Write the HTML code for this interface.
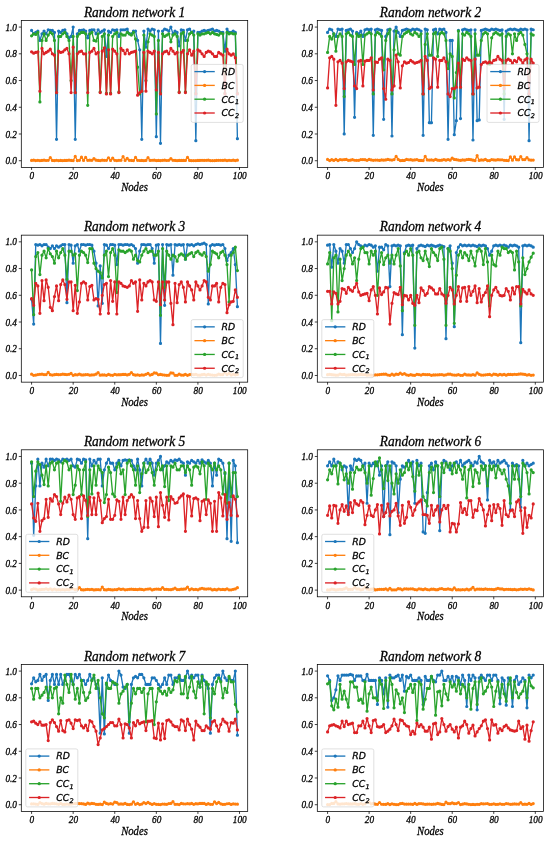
<!DOCTYPE html>
<html lang="en"><head><meta charset="utf-8"><title>Random networks</title>
<style>
html,body{margin:0;padding:0;background:#fff}
body{width:550px;height:842px;overflow:hidden}
svg{display:block}
text{font-family:"Liberation Serif","Times New Roman",serif;font-style:italic;fill:#000;stroke:#000;stroke-width:0.28px}
.tk text{font-size:10.1px}
.ti{font-size:14.6px}
.la{font-size:11.6px}
.lg{font-family:"DejaVu Sans","Liberation Sans",sans-serif;font-style:oblique;font-size:9.3px}
.sb{font-size:6.51px}
</style></head><body>
<svg width="550" height="842" viewBox="0 0 550 842">
<rect width="550" height="842" fill="#fff"/>
<g>
<polyline points="31.59,30.42 33.67,33.76 35.75,32.43 37.83,31.09 39.91,40.45 41.99,33.76 44.06,31.09 46.14,33.76 48.22,29.75 50.3,30.42 52.38,30.42 54.46,32.43 56.54,139.34 58.62,31.09 60.7,32.43 62.78,30.42 64.85,29.75 66.93,33.76 69.01,37.77 71.09,36.44 73.17,27.08 75.25,139.34 77.33,33.76 79.41,30.42 81.49,30.42 83.57,29.75 85.64,31.09 87.72,37.77 89.8,30.42 91.88,29.75 93.96,29.75 96.04,33.76 98.12,29.75 100.2,32.43 102.28,31.09 104.35,29.75 106.43,56.48 108.51,31.09 110.59,32.43 112.67,29.75 114.75,30.42 116.83,29.75 118.91,36.44 120.99,29.75 123.07,29.75 125.14,29.75 127.22,29.09 129.3,33.76 131.38,33.76 133.46,31.09 135.54,31.09 137.62,40.45 139.7,49.8 141.78,139.34 143.86,31.09 145.93,47.13 148.01,29.09 150.09,31.09 152.17,29.09 154.25,29.75 156.33,136.66 158.41,31.09 160.49,143.35 162.57,31.09 164.65,29.09 166.72,29.75 168.8,31.09 170.88,27.08 172.96,33.76 175.04,31.09 177.12,32.43 179.2,45.79 181.28,29.75 183.36,30.42 185.43,40.45 187.51,29.75 189.59,29.09 191.67,32.43 193.75,31.09 195.83,140.67 197.91,32.43 199.99,32.43 202.07,31.09 204.15,30.42 206.22,31.09 208.3,30.42 210.38,29.75 212.46,29.09 214.54,31.09 216.62,30.42 218.7,31.09 220.78,32.43 222.86,32.43 224.94,51.14 227.01,29.09 229.09,32.43 231.17,32.43 233.25,31.09 235.33,32.43 237.41,138.67" fill="none" stroke="#1c76ba" stroke-width="1.33" stroke-linejoin="round"/>
<path d="M31.59,30.42h0M33.67,33.76h0M35.75,32.43h0M37.83,31.09h0M39.91,40.45h0M41.99,33.76h0M44.06,31.09h0M46.14,33.76h0M48.22,29.75h0M50.3,30.42h0M52.38,30.42h0M54.46,32.43h0M56.54,139.34h0M58.62,31.09h0M60.7,32.43h0M62.78,30.42h0M64.85,29.75h0M66.93,33.76h0M69.01,37.77h0M71.09,36.44h0M73.17,27.08h0M75.25,139.34h0M77.33,33.76h0M79.41,30.42h0M81.49,30.42h0M83.57,29.75h0M85.64,31.09h0M87.72,37.77h0M89.8,30.42h0M91.88,29.75h0M93.96,29.75h0M96.04,33.76h0M98.12,29.75h0M100.2,32.43h0M102.28,31.09h0M104.35,29.75h0M106.43,56.48h0M108.51,31.09h0M110.59,32.43h0M112.67,29.75h0M114.75,30.42h0M116.83,29.75h0M118.91,36.44h0M120.99,29.75h0M123.07,29.75h0M125.14,29.75h0M127.22,29.09h0M129.3,33.76h0M131.38,33.76h0M133.46,31.09h0M135.54,31.09h0M137.62,40.45h0M139.7,49.8h0M141.78,139.34h0M143.86,31.09h0M145.93,47.13h0M148.01,29.09h0M150.09,31.09h0M152.17,29.09h0M154.25,29.75h0M156.33,136.66h0M158.41,31.09h0M160.49,143.35h0M162.57,31.09h0M164.65,29.09h0M166.72,29.75h0M168.8,31.09h0M170.88,27.08h0M172.96,33.76h0M175.04,31.09h0M177.12,32.43h0M179.2,45.79h0M181.28,29.75h0M183.36,30.42h0M185.43,40.45h0M187.51,29.75h0M189.59,29.09h0M191.67,32.43h0M193.75,31.09h0M195.83,140.67h0M197.91,32.43h0M199.99,32.43h0M202.07,31.09h0M204.15,30.42h0M206.22,31.09h0M208.3,30.42h0M210.38,29.75h0M212.46,29.09h0M214.54,31.09h0M216.62,30.42h0M218.7,31.09h0M220.78,32.43h0M222.86,32.43h0M224.94,51.14h0M227.01,29.09h0M229.09,32.43h0M231.17,32.43h0M233.25,31.09h0M235.33,32.43h0M237.41,138.67h0" stroke="#1c76ba" stroke-width="3.24" stroke-linecap="round" fill="none"/>
<polyline points="31.59,160.49 33.67,160.2 35.75,160.53 37.83,160.3 39.91,160.55 41.99,160.49 44.06,160.18 46.14,160.5 48.22,160.33 50.3,157.56 52.38,160.39 54.46,160.51 56.54,160.25 58.62,160.55 60.7,160.49 62.78,160.58 64.85,160.48 66.93,160.42 69.01,160.22 71.09,160.43 73.17,160.54 75.25,156.49 77.33,160.56 79.41,160.34 81.49,157.15 83.57,160.45 85.64,157.37 87.72,160.32 89.8,160.22 91.88,160.35 93.96,158.52 96.04,160.21 98.12,160.39 100.2,160.51 102.28,160.21 104.35,160.35 106.43,160.29 108.51,157.75 110.59,160.44 112.67,158.07 114.75,160.28 116.83,160.55 118.91,160.31 120.99,160.3 123.07,156.53 125.14,160.38 127.22,158.31 129.3,160.37 131.38,160.38 133.46,160.56 135.54,157.27 137.62,160.3 139.7,160.5 141.78,160.49 143.86,160.58 145.93,160.45 148.01,157.7 150.09,160.43 152.17,160.25 154.25,160.23 156.33,160.51 158.41,160.43 160.49,160.52 162.57,160.32 164.65,160.19 166.72,160.5 168.8,160.28 170.88,158.57 172.96,160.28 175.04,160.45 177.12,160.52 179.2,160.41 181.28,160.49 183.36,160.42 185.43,160.41 187.51,157.29 189.59,160.47 191.67,160.55 193.75,160.55 195.83,160.54 197.91,160.38 199.99,160.44 202.07,160.26 204.15,160.38 206.22,160.3 208.3,160.19 210.38,160.56 212.46,160.58 214.54,160.53 216.62,160.43 218.7,160.35 220.78,160.29 222.86,160.44 224.94,160.2 227.01,160.58 229.09,160.25 231.17,160.5 233.25,160.23 235.33,160.57 237.41,160.2" fill="none" stroke="#ff7f0e" stroke-width="1.33" stroke-linejoin="round"/>
<path d="M31.59,160.49h0M33.67,160.2h0M35.75,160.53h0M37.83,160.3h0M39.91,160.55h0M41.99,160.49h0M44.06,160.18h0M46.14,160.5h0M48.22,160.33h0M50.3,157.56h0M52.38,160.39h0M54.46,160.51h0M56.54,160.25h0M58.62,160.55h0M60.7,160.49h0M62.78,160.58h0M64.85,160.48h0M66.93,160.42h0M69.01,160.22h0M71.09,160.43h0M73.17,160.54h0M75.25,156.49h0M77.33,160.56h0M79.41,160.34h0M81.49,157.15h0M83.57,160.45h0M85.64,157.37h0M87.72,160.32h0M89.8,160.22h0M91.88,160.35h0M93.96,158.52h0M96.04,160.21h0M98.12,160.39h0M100.2,160.51h0M102.28,160.21h0M104.35,160.35h0M106.43,160.29h0M108.51,157.75h0M110.59,160.44h0M112.67,158.07h0M114.75,160.28h0M116.83,160.55h0M118.91,160.31h0M120.99,160.3h0M123.07,156.53h0M125.14,160.38h0M127.22,158.31h0M129.3,160.37h0M131.38,160.38h0M133.46,160.56h0M135.54,157.27h0M137.62,160.3h0M139.7,160.5h0M141.78,160.49h0M143.86,160.58h0M145.93,160.45h0M148.01,157.7h0M150.09,160.43h0M152.17,160.25h0M154.25,160.23h0M156.33,160.51h0M158.41,160.43h0M160.49,160.52h0M162.57,160.32h0M164.65,160.19h0M166.72,160.5h0M168.8,160.28h0M170.88,158.57h0M172.96,160.28h0M175.04,160.45h0M177.12,160.52h0M179.2,160.41h0M181.28,160.49h0M183.36,160.42h0M185.43,160.41h0M187.51,157.29h0M189.59,160.47h0M191.67,160.55h0M193.75,160.55h0M195.83,160.54h0M197.91,160.38h0M199.99,160.44h0M202.07,160.26h0M204.15,160.38h0M206.22,160.3h0M208.3,160.19h0M210.38,160.56h0M212.46,160.58h0M214.54,160.53h0M216.62,160.43h0M218.7,160.35h0M220.78,160.29h0M222.86,160.44h0M224.94,160.2h0M227.01,160.58h0M229.09,160.25h0M231.17,160.5h0M233.25,160.23h0M235.33,160.57h0M237.41,160.2h0" stroke="#ff7f0e" stroke-width="3.24" stroke-linecap="round" fill="none"/>
<polyline points="31.59,35.77 33.67,33.76 35.75,34.43 37.83,32.43 39.91,101.92 41.99,40.45 44.06,33.76 46.14,40.45 48.22,35.1 50.3,32.43 52.38,33.76 54.46,40.45 56.54,92.56 58.62,36.44 60.7,36.44 62.78,33.76 64.85,32.43 66.93,36.44 69.01,40.45 71.09,80.54 73.17,36.44 75.25,92.56 77.33,36.44 79.41,33.76 81.49,32.43 83.57,32.43 85.64,33.76 87.72,105.26 89.8,33.76 91.88,32.43 93.96,40.45 96.04,41.11 98.12,33.76 100.2,91.9 102.28,36.44 104.35,33.76 106.43,93.23 108.51,35.1 110.59,93.23 112.67,36.44 114.75,33.76 116.83,32.43 118.91,91.9 120.99,33.76 123.07,35.1 125.14,35.1 127.22,32.43 129.3,33.76 131.38,35.1 133.46,32.43 135.54,39.11 137.62,67.17 139.7,93.9 141.78,91.23 143.86,35.1 145.93,80.54 148.01,41.78 150.09,33.76 152.17,35.1 154.25,36.44 156.33,113.95 158.41,40.45 160.49,93.23 162.57,33.76 164.65,36.44 166.72,35.1 168.8,33.76 170.88,41.78 172.96,35.1 175.04,33.76 177.12,36.44 179.2,91.9 181.28,33.76 183.36,32.43 185.43,91.9 187.51,40.45 189.59,33.76 191.67,32.43 193.75,35.1 195.83,93.23 197.91,33.76 199.99,35.1 202.07,33.76 204.15,33.76 206.22,33.1 208.3,32.43 210.38,33.76 212.46,32.43 214.54,33.76 216.62,34.43 218.7,35.1 220.78,33.1 222.86,33.76 224.94,93.23 227.01,32.43 229.09,33.76 231.17,33.1 233.25,33.76 235.33,33.76 237.41,93.23" fill="none" stroke="#29a32d" stroke-width="1.33" stroke-linejoin="round"/>
<path d="M31.59,35.77h0M33.67,33.76h0M35.75,34.43h0M37.83,32.43h0M39.91,101.92h0M41.99,40.45h0M44.06,33.76h0M46.14,40.45h0M48.22,35.1h0M50.3,32.43h0M52.38,33.76h0M54.46,40.45h0M56.54,92.56h0M58.62,36.44h0M60.7,36.44h0M62.78,33.76h0M64.85,32.43h0M66.93,36.44h0M69.01,40.45h0M71.09,80.54h0M73.17,36.44h0M75.25,92.56h0M77.33,36.44h0M79.41,33.76h0M81.49,32.43h0M83.57,32.43h0M85.64,33.76h0M87.72,105.26h0M89.8,33.76h0M91.88,32.43h0M93.96,40.45h0M96.04,41.11h0M98.12,33.76h0M100.2,91.9h0M102.28,36.44h0M104.35,33.76h0M106.43,93.23h0M108.51,35.1h0M110.59,93.23h0M112.67,36.44h0M114.75,33.76h0M116.83,32.43h0M118.91,91.9h0M120.99,33.76h0M123.07,35.1h0M125.14,35.1h0M127.22,32.43h0M129.3,33.76h0M131.38,35.1h0M133.46,32.43h0M135.54,39.11h0M137.62,67.17h0M139.7,93.9h0M141.78,91.23h0M143.86,35.1h0M145.93,80.54h0M148.01,41.78h0M150.09,33.76h0M152.17,35.1h0M154.25,36.44h0M156.33,113.95h0M158.41,40.45h0M160.49,93.23h0M162.57,33.76h0M164.65,36.44h0M166.72,35.1h0M168.8,33.76h0M170.88,41.78h0M172.96,35.1h0M175.04,33.76h0M177.12,36.44h0M179.2,91.9h0M181.28,33.76h0M183.36,32.43h0M185.43,91.9h0M187.51,40.45h0M189.59,33.76h0M191.67,32.43h0M193.75,35.1h0M195.83,93.23h0M197.91,33.76h0M199.99,35.1h0M202.07,33.76h0M204.15,33.76h0M206.22,33.1h0M208.3,32.43h0M210.38,33.76h0M212.46,32.43h0M214.54,33.76h0M216.62,34.43h0M218.7,35.1h0M220.78,33.1h0M222.86,33.76h0M224.94,93.23h0M227.01,32.43h0M229.09,33.76h0M231.17,33.1h0M233.25,33.76h0M235.33,33.76h0M237.41,93.23h0" stroke="#29a32d" stroke-width="3.24" stroke-linecap="round" fill="none"/>
<polyline points="31.59,51.8 33.67,53.14 35.75,52.47 37.83,51.8 39.91,91.23 41.99,48.46 44.06,53.81 46.14,52.47 48.22,51.14 50.3,49.13 52.38,53.81 54.46,55.15 56.54,92.56 58.62,51.14 60.7,52.47 62.78,51.8 64.85,49.8 66.93,48.46 69.01,53.81 71.09,92.56 73.17,47.13 75.25,92.56 77.33,53.81 79.41,51.8 81.49,51.14 83.57,53.81 85.64,53.81 87.72,92.56 89.8,52.47 91.88,51.14 93.96,48.46 96.04,53.81 98.12,52.47 100.2,92.56 102.28,51.14 104.35,47.8 106.43,93.9 108.51,49.8 110.59,93.9 112.67,49.13 114.75,51.14 116.83,53.81 118.91,92.56 120.99,48.46 123.07,50.47 125.14,53.81 127.22,49.8 129.3,53.81 131.38,52.47 133.46,51.8 135.54,51.14 137.62,95.24 139.7,92.56 141.78,91.23 143.86,52.47 145.93,91.23 148.01,51.14 150.09,52.47 152.17,53.81 154.25,51.14 156.33,89.89 158.41,52.47 160.49,93.9 162.57,53.81 164.65,51.8 166.72,51.14 168.8,53.81 170.88,48.46 172.96,51.14 175.04,53.81 177.12,52.47 179.2,92.56 181.28,52.47 183.36,50.47 185.43,92.56 187.51,53.81 189.59,49.8 191.67,55.15 193.75,51.14 195.83,93.9 197.91,49.8 199.99,51.14 202.07,53.81 204.15,56.48 206.22,52.47 208.3,51.14 210.38,51.8 212.46,53.81 214.54,56.48 216.62,56.48 218.7,52.47 220.78,53.81 222.86,55.15 224.94,93.9 227.01,49.13 229.09,53.81 231.17,55.15 233.25,53.81 235.33,57.82 237.41,93.9" fill="none" stroke="#dc2226" stroke-width="1.33" stroke-linejoin="round"/>
<path d="M31.59,51.8h0M33.67,53.14h0M35.75,52.47h0M37.83,51.8h0M39.91,91.23h0M41.99,48.46h0M44.06,53.81h0M46.14,52.47h0M48.22,51.14h0M50.3,49.13h0M52.38,53.81h0M54.46,55.15h0M56.54,92.56h0M58.62,51.14h0M60.7,52.47h0M62.78,51.8h0M64.85,49.8h0M66.93,48.46h0M69.01,53.81h0M71.09,92.56h0M73.17,47.13h0M75.25,92.56h0M77.33,53.81h0M79.41,51.8h0M81.49,51.14h0M83.57,53.81h0M85.64,53.81h0M87.72,92.56h0M89.8,52.47h0M91.88,51.14h0M93.96,48.46h0M96.04,53.81h0M98.12,52.47h0M100.2,92.56h0M102.28,51.14h0M104.35,47.8h0M106.43,93.9h0M108.51,49.8h0M110.59,93.9h0M112.67,49.13h0M114.75,51.14h0M116.83,53.81h0M118.91,92.56h0M120.99,48.46h0M123.07,50.47h0M125.14,53.81h0M127.22,49.8h0M129.3,53.81h0M131.38,52.47h0M133.46,51.8h0M135.54,51.14h0M137.62,95.24h0M139.7,92.56h0M141.78,91.23h0M143.86,52.47h0M145.93,91.23h0M148.01,51.14h0M150.09,52.47h0M152.17,53.81h0M154.25,51.14h0M156.33,89.89h0M158.41,52.47h0M160.49,93.9h0M162.57,53.81h0M164.65,51.8h0M166.72,51.14h0M168.8,53.81h0M170.88,48.46h0M172.96,51.14h0M175.04,53.81h0M177.12,52.47h0M179.2,92.56h0M181.28,52.47h0M183.36,50.47h0M185.43,92.56h0M187.51,53.81h0M189.59,49.8h0M191.67,55.15h0M193.75,51.14h0M195.83,93.9h0M197.91,49.8h0M199.99,51.14h0M202.07,53.81h0M204.15,56.48h0M206.22,52.47h0M208.3,51.14h0M210.38,51.8h0M212.46,53.81h0M214.54,56.48h0M216.62,56.48h0M218.7,52.47h0M220.78,53.81h0M222.86,55.15h0M224.94,93.9h0M227.01,49.13h0M229.09,53.81h0M231.17,55.15h0M233.25,53.81h0M235.33,57.82h0M237.41,93.9h0" stroke="#dc2226" stroke-width="3.24" stroke-linecap="round" fill="none"/>
<rect x="21.3" y="20.4" width="226.4" height="147" fill="none" stroke="#000" stroke-width="0.75"/>
<path d="M31.59,167.4v2.5M73.17,167.4v2.5M114.75,167.4v2.5M156.33,167.4v2.5M197.91,167.4v2.5M239.49,167.4v2.5M21.3,160.72h-2.5M21.3,133.99h-2.5M21.3,107.26h-2.5M21.3,80.54h-2.5M21.3,53.81h-2.5M21.3,27.08h-2.5" stroke="#000" stroke-width="0.75" fill="none"/>
<g class="tk" text-anchor="middle">
<text transform="translate(31.89 179.3) scale(0.92 1)">0</text>
<text transform="translate(73.47 179.3) scale(0.92 1)">20</text>
<text transform="translate(115.05 179.3) scale(0.92 1)">40</text>
<text transform="translate(156.63 179.3) scale(0.92 1)">60</text>
<text transform="translate(198.21 179.3) scale(0.92 1)">80</text>
<text transform="translate(239.79 179.3) scale(0.92 1)">100</text>
</g>
<g class="tk" text-anchor="end">
<text transform="translate(17 164.32) scale(0.92 1)">0.0</text>
<text transform="translate(17 137.59) scale(0.92 1)">0.2</text>
<text transform="translate(17 110.86) scale(0.92 1)">0.4</text>
<text transform="translate(17 84.14) scale(0.92 1)">0.6</text>
<text transform="translate(17 57.41) scale(0.92 1)">0.8</text>
<text transform="translate(17 30.68) scale(0.92 1)">1.0</text>
</g>
<text class="ti" text-anchor="middle" transform="translate(134.6 16.5) scale(0.92 1)">Random network 1</text>
<text class="la" text-anchor="middle" transform="translate(134.5 190.9) scale(0.92 1)">Nodes</text>
<rect x="191.2" y="64.4" width="52.0" height="58.0" rx="1.8" fill="#fff" fill-opacity="0.8" stroke="#ccc" stroke-opacity="0.8" stroke-width="0.75"/>
<path d="M195.1,71.6h19" stroke="#1c76ba" stroke-width="1.33" stroke-linecap="square" fill="none"/>
<circle cx="204.6" cy="71.6" r="1.62" fill="#1c76ba"/>
<text class="lg" x="221.6" y="74.9">RD</text>
<path d="M195.1,85.4h19" stroke="#ff7f0e" stroke-width="1.33" stroke-linecap="square" fill="none"/>
<circle cx="204.6" cy="85.4" r="1.62" fill="#ff7f0e"/>
<text class="lg" x="221.6" y="88.7">BC</text>
<path d="M195.1,99.2h19" stroke="#29a32d" stroke-width="1.33" stroke-linecap="square" fill="none"/>
<circle cx="204.6" cy="99.2" r="1.62" fill="#29a32d"/>
<text class="lg" x="221.6" y="102.5">CC<tspan class="sb" dx="0.4" dy="1.7">1</tspan></text>
<path d="M195.1,113h19" stroke="#dc2226" stroke-width="1.33" stroke-linecap="square" fill="none"/>
<circle cx="204.6" cy="113" r="1.62" fill="#dc2226"/>
<text class="lg" x="221.6" y="116.3">CC<tspan class="sb" dx="0.4" dy="1.7">2</tspan></text>
</g>
<g>
<polyline points="327.58,32.43 329.66,29.09 331.74,29.75 333.81,33.76 335.89,36.44 337.97,29.09 340.04,29.75 342.12,29.09 344.2,133.99 346.28,30.42 348.35,29.75 350.43,29.09 352.51,31.09 354.58,117.29 356.66,32.43 358.74,33.76 360.82,31.09 362.89,36.44 364.97,29.75 367.05,29.09 369.12,29.75 371.2,29.09 373.28,135.33 375.36,29.75 377.43,29.09 379.51,29.75 381.59,30.42 383.66,119.29 385.74,36.44 387.82,29.75 389.9,29.09 391.97,136 394.05,31.09 396.13,27.08 398.2,32.43 400.28,36.44 402.36,30.42 404.44,29.75 406.51,29.09 408.59,29.75 410.67,30.42 412.74,29.09 414.82,29.75 416.9,29.09 418.98,29.75 421.05,31.09 423.13,135.33 425.21,29.09 427.28,29.75 429.36,122.63 431.44,122.63 433.52,29.75 435.59,29.09 437.67,33.76 439.75,29.09 441.82,29.75 443.9,29.09 445.98,32.43 448.06,139.34 450.13,40.45 452.21,40.45 454.29,134.66 456.36,120.63 458.44,30.42 460.52,118.62 462.6,29.75 464.67,29.09 466.75,29.75 468.83,30.42 470.9,29.75 472.98,140 475.06,29.75 477.14,120.63 479.21,119.96 481.29,30.42 483.37,29.75 485.44,29.09 487.52,29.75 489.6,30.42 491.68,29.09 493.75,29.75 495.83,29.09 497.91,29.75 499.98,30.42 502.06,29.75 504.14,119.29 506.22,31.09 508.29,29.75 510.37,29.09 512.45,29.75 514.52,29.09 516.6,29.75 518.68,30.42 520.76,29.09 522.83,29.75 524.91,29.09 526.99,29.75 529.06,140.67 531.14,29.09 533.22,29.75" fill="none" stroke="#1c76ba" stroke-width="1.33" stroke-linejoin="round"/>
<path d="M327.58,32.43h0M329.66,29.09h0M331.74,29.75h0M333.81,33.76h0M335.89,36.44h0M337.97,29.09h0M340.04,29.75h0M342.12,29.09h0M344.2,133.99h0M346.28,30.42h0M348.35,29.75h0M350.43,29.09h0M352.51,31.09h0M354.58,117.29h0M356.66,32.43h0M358.74,33.76h0M360.82,31.09h0M362.89,36.44h0M364.97,29.75h0M367.05,29.09h0M369.12,29.75h0M371.2,29.09h0M373.28,135.33h0M375.36,29.75h0M377.43,29.09h0M379.51,29.75h0M381.59,30.42h0M383.66,119.29h0M385.74,36.44h0M387.82,29.75h0M389.9,29.09h0M391.97,136h0M394.05,31.09h0M396.13,27.08h0M398.2,32.43h0M400.28,36.44h0M402.36,30.42h0M404.44,29.75h0M406.51,29.09h0M408.59,29.75h0M410.67,30.42h0M412.74,29.09h0M414.82,29.75h0M416.9,29.09h0M418.98,29.75h0M421.05,31.09h0M423.13,135.33h0M425.21,29.09h0M427.28,29.75h0M429.36,122.63h0M431.44,122.63h0M433.52,29.75h0M435.59,29.09h0M437.67,33.76h0M439.75,29.09h0M441.82,29.75h0M443.9,29.09h0M445.98,32.43h0M448.06,139.34h0M450.13,40.45h0M452.21,40.45h0M454.29,134.66h0M456.36,120.63h0M458.44,30.42h0M460.52,118.62h0M462.6,29.75h0M464.67,29.09h0M466.75,29.75h0M468.83,30.42h0M470.9,29.75h0M472.98,140h0M475.06,29.75h0M477.14,120.63h0M479.21,119.96h0M481.29,30.42h0M483.37,29.75h0M485.44,29.09h0M487.52,29.75h0M489.6,30.42h0M491.68,29.09h0M493.75,29.75h0M495.83,29.09h0M497.91,29.75h0M499.98,30.42h0M502.06,29.75h0M504.14,119.29h0M506.22,31.09h0M508.29,29.75h0M510.37,29.09h0M512.45,29.75h0M514.52,29.09h0M516.6,29.75h0M518.68,30.42h0M520.76,29.09h0M522.83,29.75h0M524.91,29.09h0M526.99,29.75h0M529.06,140.67h0M531.14,29.09h0M533.22,29.75h0" stroke="#1c76ba" stroke-width="3.24" stroke-linecap="round" fill="none"/>
<polyline points="327.58,159.42 329.66,160.57 331.74,159.7 333.81,160.39 335.89,159.4 337.97,160.56 340.04,159.53 342.12,159.77 344.2,159.55 346.28,159.38 348.35,160.3 350.43,160.18 352.51,159.73 354.58,160.25 356.66,160.27 358.74,160.31 360.82,159.55 362.89,159.53 364.97,159.63 367.05,160.32 369.12,159.47 371.2,159.97 373.28,160.31 375.36,160.04 377.43,160.08 379.51,160.49 381.59,159.91 383.66,160.15 385.74,159.9 387.82,159.47 389.9,159.81 391.97,160.1 394.05,159.55 396.13,156.47 398.2,159.45 400.28,160.56 402.36,160.42 404.44,160.38 406.51,159.46 408.59,159.75 410.67,159.72 412.74,160.24 414.82,159.99 416.9,159.52 418.98,160.46 421.05,160.44 423.13,160.53 425.21,156.35 427.28,159.92 429.36,160.1 431.44,159.98 433.52,160.37 435.59,159.44 437.67,160.16 439.75,160.3 441.82,160.21 443.9,159.59 445.98,160.2 448.06,159.5 450.13,160.18 452.21,158.02 454.29,159.49 456.36,159.63 458.44,160.01 460.52,160.45 462.6,159.99 464.67,160.13 466.75,159.57 468.83,159.47 470.9,159.69 472.98,160.24 475.06,160.53 477.14,155.62 479.21,160.39 481.29,159.98 483.37,160.01 485.44,159.41 487.52,160.53 489.6,160.51 491.68,159.57 493.75,159.9 495.83,160.03 497.91,159.65 499.98,159.87 502.06,159.75 504.14,160.28 506.22,160.48 508.29,160.57 510.37,156.93 512.45,160.13 514.52,156.97 516.6,159.74 518.68,159.87 520.76,156.58 522.83,159.62 524.91,159.51 526.99,157.61 529.06,159.78 531.14,160.17 533.22,160.12" fill="none" stroke="#ff7f0e" stroke-width="1.33" stroke-linejoin="round"/>
<path d="M327.58,159.42h0M329.66,160.57h0M331.74,159.7h0M333.81,160.39h0M335.89,159.4h0M337.97,160.56h0M340.04,159.53h0M342.12,159.77h0M344.2,159.55h0M346.28,159.38h0M348.35,160.3h0M350.43,160.18h0M352.51,159.73h0M354.58,160.25h0M356.66,160.27h0M358.74,160.31h0M360.82,159.55h0M362.89,159.53h0M364.97,159.63h0M367.05,160.32h0M369.12,159.47h0M371.2,159.97h0M373.28,160.31h0M375.36,160.04h0M377.43,160.08h0M379.51,160.49h0M381.59,159.91h0M383.66,160.15h0M385.74,159.9h0M387.82,159.47h0M389.9,159.81h0M391.97,160.1h0M394.05,159.55h0M396.13,156.47h0M398.2,159.45h0M400.28,160.56h0M402.36,160.42h0M404.44,160.38h0M406.51,159.46h0M408.59,159.75h0M410.67,159.72h0M412.74,160.24h0M414.82,159.99h0M416.9,159.52h0M418.98,160.46h0M421.05,160.44h0M423.13,160.53h0M425.21,156.35h0M427.28,159.92h0M429.36,160.1h0M431.44,159.98h0M433.52,160.37h0M435.59,159.44h0M437.67,160.16h0M439.75,160.3h0M441.82,160.21h0M443.9,159.59h0M445.98,160.2h0M448.06,159.5h0M450.13,160.18h0M452.21,158.02h0M454.29,159.49h0M456.36,159.63h0M458.44,160.01h0M460.52,160.45h0M462.6,159.99h0M464.67,160.13h0M466.75,159.57h0M468.83,159.47h0M470.9,159.69h0M472.98,160.24h0M475.06,160.53h0M477.14,155.62h0M479.21,160.39h0M481.29,159.98h0M483.37,160.01h0M485.44,159.41h0M487.52,160.53h0M489.6,160.51h0M491.68,159.57h0M493.75,159.9h0M495.83,160.03h0M497.91,159.65h0M499.98,159.87h0M502.06,159.75h0M504.14,160.28h0M506.22,160.48h0M508.29,160.57h0M510.37,156.93h0M512.45,160.13h0M514.52,156.97h0M516.6,159.74h0M518.68,159.87h0M520.76,156.58h0M522.83,159.62h0M524.91,159.51h0M526.99,157.61h0M529.06,159.78h0M531.14,160.17h0M533.22,160.12h0" stroke="#ff7f0e" stroke-width="3.24" stroke-linecap="round" fill="none"/>
<polyline points="327.58,52.47 329.66,36.44 331.74,39.11 333.81,33.76 335.89,51.14 337.97,36.44 340.04,33.76 342.12,36.44 344.2,96.57 346.28,33.76 348.35,32.43 350.43,35.1 352.51,36.44 354.58,64.5 356.66,33.76 358.74,36.44 360.82,35.1 362.89,64.5 364.97,35.1 367.05,33.76 369.12,32.43 371.2,33.76 373.28,93.9 375.36,35.1 377.43,32.43 379.51,33.76 381.59,36.44 383.66,69.85 385.74,40.45 387.82,33.76 389.9,29.75 391.97,93.9 394.05,49.8 396.13,31.09 398.2,53.81 400.28,55.15 402.36,36.44 404.44,33.76 406.51,32.43 408.59,31.09 410.67,33.76 412.74,35.1 414.82,32.43 416.9,33.76 418.98,36.44 421.05,33.76 423.13,93.9 425.21,44.45 427.28,33.76 429.36,55.15 431.44,55.15 433.52,33.76 435.59,32.43 437.67,56.48 439.75,33.76 441.82,32.43 443.9,33.76 445.98,40.45 448.06,68.51 450.13,53.81 452.21,56.48 454.29,97.91 456.36,72.52 458.44,31.09 460.52,87.22 462.6,33.76 464.67,35.1 466.75,32.43 468.83,33.76 470.9,36.44 472.98,93.9 475.06,33.76 477.14,55.15 479.21,55.15 481.29,40.45 483.37,33.76 485.44,32.43 487.52,33.76 489.6,64.5 491.68,37.77 493.75,33.76 495.83,32.43 497.91,33.76 499.98,35.1 502.06,33.76 504.14,93.9 506.22,36.44 508.29,33.76 510.37,35.1 512.45,53.81 514.52,33.76 516.6,40.45 518.68,33.76 520.76,32.43 522.83,35.1 524.91,44.45 526.99,53.81 529.06,93.9 531.14,33.76 533.22,35.1" fill="none" stroke="#29a32d" stroke-width="1.33" stroke-linejoin="round"/>
<path d="M327.58,52.47h0M329.66,36.44h0M331.74,39.11h0M333.81,33.76h0M335.89,51.14h0M337.97,36.44h0M340.04,33.76h0M342.12,36.44h0M344.2,96.57h0M346.28,33.76h0M348.35,32.43h0M350.43,35.1h0M352.51,36.44h0M354.58,64.5h0M356.66,33.76h0M358.74,36.44h0M360.82,35.1h0M362.89,64.5h0M364.97,35.1h0M367.05,33.76h0M369.12,32.43h0M371.2,33.76h0M373.28,93.9h0M375.36,35.1h0M377.43,32.43h0M379.51,33.76h0M381.59,36.44h0M383.66,69.85h0M385.74,40.45h0M387.82,33.76h0M389.9,29.75h0M391.97,93.9h0M394.05,49.8h0M396.13,31.09h0M398.2,53.81h0M400.28,55.15h0M402.36,36.44h0M404.44,33.76h0M406.51,32.43h0M408.59,31.09h0M410.67,33.76h0M412.74,35.1h0M414.82,32.43h0M416.9,33.76h0M418.98,36.44h0M421.05,33.76h0M423.13,93.9h0M425.21,44.45h0M427.28,33.76h0M429.36,55.15h0M431.44,55.15h0M433.52,33.76h0M435.59,32.43h0M437.67,56.48h0M439.75,33.76h0M441.82,32.43h0M443.9,33.76h0M445.98,40.45h0M448.06,68.51h0M450.13,53.81h0M452.21,56.48h0M454.29,97.91h0M456.36,72.52h0M458.44,31.09h0M460.52,87.22h0M462.6,33.76h0M464.67,35.1h0M466.75,32.43h0M468.83,33.76h0M470.9,36.44h0M472.98,93.9h0M475.06,33.76h0M477.14,55.15h0M479.21,55.15h0M481.29,40.45h0M483.37,33.76h0M485.44,32.43h0M487.52,33.76h0M489.6,64.5h0M491.68,37.77h0M493.75,33.76h0M495.83,32.43h0M497.91,33.76h0M499.98,35.1h0M502.06,33.76h0M504.14,93.9h0M506.22,36.44h0M508.29,33.76h0M510.37,35.1h0M512.45,53.81h0M514.52,33.76h0M516.6,40.45h0M518.68,33.76h0M520.76,32.43h0M522.83,35.1h0M524.91,44.45h0M526.99,53.81h0M529.06,93.9h0M531.14,33.76h0M533.22,35.1h0" stroke="#29a32d" stroke-width="3.24" stroke-linecap="round" fill="none"/>
<polyline points="327.58,87.89 329.66,57.82 331.74,56.48 333.81,59.15 335.89,105.26 337.97,61.83 340.04,60.49 342.12,63.16 344.2,88.55 346.28,61.83 348.35,60.49 350.43,61.16 352.51,61.83 354.58,85.88 356.66,88.55 358.74,61.16 360.82,60.49 362.89,85.88 364.97,61.16 367.05,60.49 369.12,60.49 371.2,57.82 373.28,89.89 375.36,61.83 377.43,62.5 379.51,59.15 381.59,57.82 383.66,88.55 385.74,99.25 387.82,59.15 389.9,60.49 391.97,89.89 394.05,85.88 396.13,55.15 398.2,61.83 400.28,87.89 402.36,65.84 404.44,61.83 406.51,63.16 408.59,62.5 410.67,60.49 412.74,61.83 414.82,63.16 416.9,62.5 418.98,61.83 421.05,60.49 423.13,93.9 425.21,56.48 427.28,60.49 429.36,88.55 431.44,87.22 433.52,57.82 435.59,59.15 437.67,87.22 439.75,60.49 441.82,60.49 443.9,57.82 445.98,61.83 448.06,93.9 450.13,96.57 452.21,88.55 454.29,88.55 456.36,87.22 458.44,63.16 460.52,87.22 462.6,59.15 464.67,60.49 466.75,57.82 468.83,59.82 470.9,60.49 472.98,93.9 475.06,59.15 477.14,87.89 479.21,87.22 481.29,64.5 483.37,62.5 485.44,61.83 487.52,63.16 489.6,61.83 491.68,63.16 493.75,60.49 495.83,59.82 497.91,56.48 499.98,59.15 502.06,60.49 504.14,88.55 506.22,60.49 508.29,59.15 510.37,60.49 512.45,63.16 514.52,60.49 516.6,61.83 518.68,57.82 520.76,59.82 522.83,63.16 524.91,59.82 526.99,58.49 529.06,93.9 531.14,59.15 533.22,63.16" fill="none" stroke="#dc2226" stroke-width="1.33" stroke-linejoin="round"/>
<path d="M327.58,87.89h0M329.66,57.82h0M331.74,56.48h0M333.81,59.15h0M335.89,105.26h0M337.97,61.83h0M340.04,60.49h0M342.12,63.16h0M344.2,88.55h0M346.28,61.83h0M348.35,60.49h0M350.43,61.16h0M352.51,61.83h0M354.58,85.88h0M356.66,88.55h0M358.74,61.16h0M360.82,60.49h0M362.89,85.88h0M364.97,61.16h0M367.05,60.49h0M369.12,60.49h0M371.2,57.82h0M373.28,89.89h0M375.36,61.83h0M377.43,62.5h0M379.51,59.15h0M381.59,57.82h0M383.66,88.55h0M385.74,99.25h0M387.82,59.15h0M389.9,60.49h0M391.97,89.89h0M394.05,85.88h0M396.13,55.15h0M398.2,61.83h0M400.28,87.89h0M402.36,65.84h0M404.44,61.83h0M406.51,63.16h0M408.59,62.5h0M410.67,60.49h0M412.74,61.83h0M414.82,63.16h0M416.9,62.5h0M418.98,61.83h0M421.05,60.49h0M423.13,93.9h0M425.21,56.48h0M427.28,60.49h0M429.36,88.55h0M431.44,87.22h0M433.52,57.82h0M435.59,59.15h0M437.67,87.22h0M439.75,60.49h0M441.82,60.49h0M443.9,57.82h0M445.98,61.83h0M448.06,93.9h0M450.13,96.57h0M452.21,88.55h0M454.29,88.55h0M456.36,87.22h0M458.44,63.16h0M460.52,87.22h0M462.6,59.15h0M464.67,60.49h0M466.75,57.82h0M468.83,59.82h0M470.9,60.49h0M472.98,93.9h0M475.06,59.15h0M477.14,87.89h0M479.21,87.22h0M481.29,64.5h0M483.37,62.5h0M485.44,61.83h0M487.52,63.16h0M489.6,61.83h0M491.68,63.16h0M493.75,60.49h0M495.83,59.82h0M497.91,56.48h0M499.98,59.15h0M502.06,60.49h0M504.14,88.55h0M506.22,60.49h0M508.29,59.15h0M510.37,60.49h0M512.45,63.16h0M514.52,60.49h0M516.6,61.83h0M518.68,57.82h0M520.76,59.82h0M522.83,63.16h0M524.91,59.82h0M526.99,58.49h0M529.06,93.9h0M531.14,59.15h0M533.22,63.16h0" stroke="#dc2226" stroke-width="3.24" stroke-linecap="round" fill="none"/>
<rect x="317.3" y="20.4" width="226.2" height="147" fill="none" stroke="#000" stroke-width="0.75"/>
<path d="M327.58,167.4v2.5M369.12,167.4v2.5M410.67,167.4v2.5M452.21,167.4v2.5M493.75,167.4v2.5M535.3,167.4v2.5M317.3,160.72h-2.5M317.3,133.99h-2.5M317.3,107.26h-2.5M317.3,80.54h-2.5M317.3,53.81h-2.5M317.3,27.08h-2.5" stroke="#000" stroke-width="0.75" fill="none"/>
<g class="tk" text-anchor="middle">
<text transform="translate(327.88 179.3) scale(0.92 1)">0</text>
<text transform="translate(369.42 179.3) scale(0.92 1)">20</text>
<text transform="translate(410.97 179.3) scale(0.92 1)">40</text>
<text transform="translate(452.51 179.3) scale(0.92 1)">60</text>
<text transform="translate(494.05 179.3) scale(0.92 1)">80</text>
<text transform="translate(535.6 179.3) scale(0.92 1)">100</text>
</g>
<g class="tk" text-anchor="end">
<text transform="translate(313 164.32) scale(0.92 1)">0.0</text>
<text transform="translate(313 137.59) scale(0.92 1)">0.2</text>
<text transform="translate(313 110.86) scale(0.92 1)">0.4</text>
<text transform="translate(313 84.14) scale(0.92 1)">0.6</text>
<text transform="translate(313 57.41) scale(0.92 1)">0.8</text>
<text transform="translate(313 30.68) scale(0.92 1)">1.0</text>
</g>
<text class="ti" text-anchor="middle" transform="translate(430.5 16.5) scale(0.92 1)">Random network 2</text>
<text class="la" text-anchor="middle" transform="translate(430.4 190.9) scale(0.92 1)">Nodes</text>
<rect x="487" y="64.4" width="52.0" height="58.0" rx="1.8" fill="#fff" fill-opacity="0.8" stroke="#ccc" stroke-opacity="0.8" stroke-width="0.75"/>
<path d="M490.9,71.6h19" stroke="#1c76ba" stroke-width="1.33" stroke-linecap="square" fill="none"/>
<circle cx="500.4" cy="71.6" r="1.62" fill="#1c76ba"/>
<text class="lg" x="517.4" y="74.9">RD</text>
<path d="M490.9,85.4h19" stroke="#ff7f0e" stroke-width="1.33" stroke-linecap="square" fill="none"/>
<circle cx="500.4" cy="85.4" r="1.62" fill="#ff7f0e"/>
<text class="lg" x="517.4" y="88.7">BC</text>
<path d="M490.9,99.2h19" stroke="#29a32d" stroke-width="1.33" stroke-linecap="square" fill="none"/>
<circle cx="500.4" cy="99.2" r="1.62" fill="#29a32d"/>
<text class="lg" x="517.4" y="102.5">CC<tspan class="sb" dx="0.4" dy="1.7">1</tspan></text>
<path d="M490.9,113h19" stroke="#dc2226" stroke-width="1.33" stroke-linecap="square" fill="none"/>
<circle cx="500.4" cy="113" r="1.62" fill="#dc2226"/>
<text class="lg" x="517.4" y="116.3">CC<tspan class="sb" dx="0.4" dy="1.7">2</tspan></text>
</g>
<g>
<polyline points="31.59,299.3 33.67,324.02 35.75,244.5 37.83,245.17 39.91,244.5 41.99,245.84 44.06,244.5 46.14,244.5 48.22,247.18 50.3,248.51 52.38,245.84 54.46,248.51 56.54,245.84 58.62,247.18 60.7,245.84 62.78,244.5 64.85,244.5 66.93,302.64 69.01,244.5 71.09,245.17 73.17,263.21 75.25,245.84 77.33,244.5 79.41,251.19 81.49,244.5 83.57,244.5 85.64,245.17 87.72,244.5 89.8,244.5 91.88,245.17 93.96,251.19 96.04,263.21 98.12,305.98 100.2,265.89 102.28,303.3 104.35,244.5 106.43,245.17 108.51,248.51 110.59,244.5 112.67,244.5 114.75,245.17 116.83,264.55 118.91,244.5 120.99,244.5 123.07,245.17 125.14,244.5 127.22,244.5 129.3,245.17 131.38,244.5 133.46,245.84 135.54,248.51 137.62,263.21 139.7,251.19 141.78,244.5 143.86,244.5 145.93,245.17 148.01,244.5 150.09,244.5 152.17,248.51 154.25,263.21 156.33,245.17 158.41,244.5 160.49,343.4 162.57,244.5 164.65,305.31 166.72,244.5 168.8,245.17 170.88,244.5 172.96,275.24 175.04,244.5 177.12,245.17 179.2,244.5 181.28,245.17 183.36,244.5 185.43,259.2 187.51,244.5 189.59,245.17 191.67,244.5 193.75,245.84 195.83,244.5 197.91,243.84 199.99,244.5 202.07,243.84 204.15,243.17 206.22,244.5 208.3,303.97 210.38,245.84 212.46,244.5 214.54,245.17 216.62,244.5 218.7,244.5 220.78,245.17 222.86,244.5 224.94,248.51 227.01,260.54 229.09,255.2 231.17,252.52 233.25,248.51 235.33,264.55 237.41,306.65" fill="none" stroke="#1c76ba" stroke-width="1.33" stroke-linejoin="round"/>
<path d="M31.59,299.3h0M33.67,324.02h0M35.75,244.5h0M37.83,245.17h0M39.91,244.5h0M41.99,245.84h0M44.06,244.5h0M46.14,244.5h0M48.22,247.18h0M50.3,248.51h0M52.38,245.84h0M54.46,248.51h0M56.54,245.84h0M58.62,247.18h0M60.7,245.84h0M62.78,244.5h0M64.85,244.5h0M66.93,302.64h0M69.01,244.5h0M71.09,245.17h0M73.17,263.21h0M75.25,245.84h0M77.33,244.5h0M79.41,251.19h0M81.49,244.5h0M83.57,244.5h0M85.64,245.17h0M87.72,244.5h0M89.8,244.5h0M91.88,245.17h0M93.96,251.19h0M96.04,263.21h0M98.12,305.98h0M100.2,265.89h0M102.28,303.3h0M104.35,244.5h0M106.43,245.17h0M108.51,248.51h0M110.59,244.5h0M112.67,244.5h0M114.75,245.17h0M116.83,264.55h0M118.91,244.5h0M120.99,244.5h0M123.07,245.17h0M125.14,244.5h0M127.22,244.5h0M129.3,245.17h0M131.38,244.5h0M133.46,245.84h0M135.54,248.51h0M137.62,263.21h0M139.7,251.19h0M141.78,244.5h0M143.86,244.5h0M145.93,245.17h0M148.01,244.5h0M150.09,244.5h0M152.17,248.51h0M154.25,263.21h0M156.33,245.17h0M158.41,244.5h0M160.49,343.4h0M162.57,244.5h0M164.65,305.31h0M166.72,244.5h0M168.8,245.17h0M170.88,244.5h0M172.96,275.24h0M175.04,244.5h0M177.12,245.17h0M179.2,244.5h0M181.28,245.17h0M183.36,244.5h0M185.43,259.2h0M187.51,244.5h0M189.59,245.17h0M191.67,244.5h0M193.75,245.84h0M195.83,244.5h0M197.91,243.84h0M199.99,244.5h0M202.07,243.84h0M204.15,243.17h0M206.22,244.5h0M208.3,303.97h0M210.38,245.84h0M212.46,244.5h0M214.54,245.17h0M216.62,244.5h0M218.7,244.5h0M220.78,245.17h0M222.86,244.5h0M224.94,248.51h0M227.01,260.54h0M229.09,255.2h0M231.17,252.52h0M233.25,248.51h0M235.33,264.55h0M237.41,306.65h0" stroke="#1c76ba" stroke-width="3.24" stroke-linecap="round" fill="none"/>
<polyline points="31.59,374.18 33.67,375.31 35.75,375.11 37.83,374.55 39.91,374.26 41.99,374.18 44.06,374.61 46.14,374.51 48.22,372.27 50.3,374.63 52.38,375.11 54.46,374.63 56.54,374.4 58.62,374.65 60.7,374.6 62.78,374.18 64.85,374.4 66.93,374.55 69.01,374.34 71.09,373.46 73.17,375.3 75.25,374.73 77.33,374.84 79.41,374.23 81.49,374.88 83.57,374.98 85.64,374.68 87.72,374.52 89.8,375.23 91.88,374.91 93.96,374.85 96.04,374.19 98.12,372.61 100.2,375.13 102.28,374.91 104.35,374.9 106.43,375.29 108.51,374.38 110.59,375.09 112.67,375.27 114.75,374.34 116.83,374.78 118.91,374.73 120.99,374.63 123.07,374.44 125.14,374.46 127.22,374.91 129.3,374.35 131.38,372.6 133.46,374.57 135.54,375.13 137.62,374.81 139.7,375.28 141.78,374.91 143.86,375.07 145.93,374.29 148.01,373.45 150.09,375.08 152.17,374.45 154.25,372.92 156.33,373.19 158.41,374.75 160.49,374.43 162.57,374.78 164.65,375.06 166.72,375.26 168.8,375.14 170.88,372.96 172.96,373.03 175.04,375.3 177.12,375.33 179.2,374.15 181.28,375.05 183.36,375.17 185.43,374.3 187.51,375.32 189.59,374.56 191.67,374.37 193.75,374.67 195.83,374.31 197.91,375.11 199.99,375.14 202.07,374.72 204.15,374.35 206.22,375.11 208.3,374.28 210.38,374.87 212.46,375.1 214.54,375.27 216.62,375.05 218.7,374.17 220.78,374.66 222.86,374.61 224.94,372.09 227.01,374.51 229.09,373.43 231.17,375.12 233.25,374.21 235.33,374.84 237.41,374.44" fill="none" stroke="#ff7f0e" stroke-width="1.33" stroke-linejoin="round"/>
<path d="M31.59,374.18h0M33.67,375.31h0M35.75,375.11h0M37.83,374.55h0M39.91,374.26h0M41.99,374.18h0M44.06,374.61h0M46.14,374.51h0M48.22,372.27h0M50.3,374.63h0M52.38,375.11h0M54.46,374.63h0M56.54,374.4h0M58.62,374.65h0M60.7,374.6h0M62.78,374.18h0M64.85,374.4h0M66.93,374.55h0M69.01,374.34h0M71.09,373.46h0M73.17,375.3h0M75.25,374.73h0M77.33,374.84h0M79.41,374.23h0M81.49,374.88h0M83.57,374.98h0M85.64,374.68h0M87.72,374.52h0M89.8,375.23h0M91.88,374.91h0M93.96,374.85h0M96.04,374.19h0M98.12,372.61h0M100.2,375.13h0M102.28,374.91h0M104.35,374.9h0M106.43,375.29h0M108.51,374.38h0M110.59,375.09h0M112.67,375.27h0M114.75,374.34h0M116.83,374.78h0M118.91,374.73h0M120.99,374.63h0M123.07,374.44h0M125.14,374.46h0M127.22,374.91h0M129.3,374.35h0M131.38,372.6h0M133.46,374.57h0M135.54,375.13h0M137.62,374.81h0M139.7,375.28h0M141.78,374.91h0M143.86,375.07h0M145.93,374.29h0M148.01,373.45h0M150.09,375.08h0M152.17,374.45h0M154.25,372.92h0M156.33,373.19h0M158.41,374.75h0M160.49,374.43h0M162.57,374.78h0M164.65,375.06h0M166.72,375.26h0M168.8,375.14h0M170.88,372.96h0M172.96,373.03h0M175.04,375.3h0M177.12,375.33h0M179.2,374.15h0M181.28,375.05h0M183.36,375.17h0M185.43,374.3h0M187.51,375.32h0M189.59,374.56h0M191.67,374.37h0M193.75,374.67h0M195.83,374.31h0M197.91,375.11h0M199.99,375.14h0M202.07,374.72h0M204.15,374.35h0M206.22,375.11h0M208.3,374.28h0M210.38,374.87h0M212.46,375.1h0M214.54,375.27h0M216.62,375.05h0M218.7,374.17h0M220.78,374.66h0M222.86,374.61h0M224.94,372.09h0M227.01,374.51h0M229.09,373.43h0M231.17,375.12h0M233.25,374.21h0M235.33,374.84h0M237.41,374.44h0" stroke="#ff7f0e" stroke-width="3.24" stroke-linecap="round" fill="none"/>
<polyline points="31.59,269.9 33.67,314.66 35.75,256.53 37.83,252.52 39.91,274.57 41.99,255.2 44.06,251.19 46.14,257.87 48.22,248.51 50.3,253.86 52.38,256.53 54.46,263.21 56.54,251.19 58.62,257.87 60.7,252.52 62.78,248.51 64.85,255.2 66.93,279.25 69.01,251.19 71.09,251.19 73.17,255.2 75.25,253.86 77.33,290.61 79.41,255.2 81.49,251.19 83.57,252.52 85.64,255.2 87.72,262.55 89.8,248.51 91.88,248.51 93.96,263.21 96.04,268.56 98.12,271.23 100.2,272.57 102.28,277.91 104.35,255.2 106.43,251.19 108.51,276.58 110.59,252.52 112.67,248.51 114.75,255.2 116.83,292.61 118.91,249.85 120.99,251.19 123.07,251.19 125.14,252.52 127.22,251.19 129.3,249.85 131.38,251.19 133.46,259.2 135.54,255.2 137.62,260.54 139.7,261.88 141.78,255.2 143.86,251.19 145.93,248.51 148.01,252.52 150.09,251.19 152.17,251.19 154.25,255.2 156.33,255.2 158.41,251.19 160.49,315.33 162.57,248.51 164.65,287.27 166.72,251.19 168.8,255.2 170.88,259.2 172.96,255.2 175.04,256.53 177.12,261.21 179.2,255.2 181.28,253.86 183.36,255.2 185.43,259.2 187.51,255.2 189.59,253.86 191.67,252.52 193.75,256.53 195.83,252.52 197.91,251.19 199.99,253.86 202.07,255.2 204.15,252.52 206.22,256.53 208.3,271.23 210.38,264.55 212.46,251.19 214.54,252.52 216.62,253.86 218.7,257.87 220.78,252.52 222.86,251.19 224.94,255.2 227.01,264.55 229.09,301.97 231.17,255.2 233.25,252.52 235.33,247.18 237.41,270.56" fill="none" stroke="#29a32d" stroke-width="1.33" stroke-linejoin="round"/>
<path d="M31.59,269.9h0M33.67,314.66h0M35.75,256.53h0M37.83,252.52h0M39.91,274.57h0M41.99,255.2h0M44.06,251.19h0M46.14,257.87h0M48.22,248.51h0M50.3,253.86h0M52.38,256.53h0M54.46,263.21h0M56.54,251.19h0M58.62,257.87h0M60.7,252.52h0M62.78,248.51h0M64.85,255.2h0M66.93,279.25h0M69.01,251.19h0M71.09,251.19h0M73.17,255.2h0M75.25,253.86h0M77.33,290.61h0M79.41,255.2h0M81.49,251.19h0M83.57,252.52h0M85.64,255.2h0M87.72,262.55h0M89.8,248.51h0M91.88,248.51h0M93.96,263.21h0M96.04,268.56h0M98.12,271.23h0M100.2,272.57h0M102.28,277.91h0M104.35,255.2h0M106.43,251.19h0M108.51,276.58h0M110.59,252.52h0M112.67,248.51h0M114.75,255.2h0M116.83,292.61h0M118.91,249.85h0M120.99,251.19h0M123.07,251.19h0M125.14,252.52h0M127.22,251.19h0M129.3,249.85h0M131.38,251.19h0M133.46,259.2h0M135.54,255.2h0M137.62,260.54h0M139.7,261.88h0M141.78,255.2h0M143.86,251.19h0M145.93,248.51h0M148.01,252.52h0M150.09,251.19h0M152.17,251.19h0M154.25,255.2h0M156.33,255.2h0M158.41,251.19h0M160.49,315.33h0M162.57,248.51h0M164.65,287.27h0M166.72,251.19h0M168.8,255.2h0M170.88,259.2h0M172.96,255.2h0M175.04,256.53h0M177.12,261.21h0M179.2,255.2h0M181.28,253.86h0M183.36,255.2h0M185.43,259.2h0M187.51,255.2h0M189.59,253.86h0M191.67,252.52h0M193.75,256.53h0M195.83,252.52h0M197.91,251.19h0M199.99,253.86h0M202.07,255.2h0M204.15,252.52h0M206.22,256.53h0M208.3,271.23h0M210.38,264.55h0M212.46,251.19h0M214.54,252.52h0M216.62,253.86h0M218.7,257.87h0M220.78,252.52h0M222.86,251.19h0M224.94,255.2h0M227.01,264.55h0M229.09,301.97h0M231.17,255.2h0M233.25,252.52h0M235.33,247.18h0M237.41,270.56h0" stroke="#29a32d" stroke-width="3.24" stroke-linecap="round" fill="none"/>
<polyline points="31.59,298.63 33.67,305.31 35.75,283.26 37.83,285.93 39.91,313.33 41.99,280.59 44.06,300.63 46.14,279.92 48.22,287.27 50.3,307.31 52.38,310.65 54.46,296.62 56.54,285.93 58.62,300.63 60.7,284.6 62.78,279.92 64.85,284.6 66.93,299.3 69.01,281.92 71.09,281.92 73.17,310.65 75.25,285.26 77.33,313.33 79.41,301.97 81.49,283.26 83.57,281.92 85.64,283.26 87.72,299.96 89.8,286.6 91.88,285.26 93.96,299.96 96.04,298.63 98.12,299.3 100.2,314 102.28,295.29 104.35,284.6 106.43,283.26 108.51,313.33 110.59,280.59 112.67,301.3 114.75,281.92 116.83,314 118.91,281.92 120.99,283.26 123.07,285.93 125.14,286.6 127.22,287.27 129.3,285.93 131.38,280.59 133.46,283.26 135.54,281.92 137.62,311.32 139.7,279.92 141.78,299.96 143.86,283.26 145.93,285.93 148.01,281.92 150.09,280.59 152.17,281.92 154.25,299.96 156.33,301.3 158.41,281.92 160.49,304.64 162.57,281.92 164.65,299.96 166.72,281.92 168.8,281.92 170.88,303.3 172.96,324.69 175.04,283.26 177.12,302.64 179.2,284.6 181.28,281.92 183.36,287.27 185.43,301.97 187.51,281.92 189.59,285.93 191.67,289.94 193.75,299.96 195.83,281.92 197.91,285.93 199.99,289.94 202.07,285.93 204.15,280.59 206.22,281.92 208.3,297.29 210.38,299.96 212.46,285.93 214.54,285.93 216.62,283.26 218.7,301.97 220.78,287.27 222.86,283.26 224.94,284.6 227.01,312.66 229.09,304.64 231.17,301.97 233.25,301.3 235.33,289.94 237.41,297.29" fill="none" stroke="#dc2226" stroke-width="1.33" stroke-linejoin="round"/>
<path d="M31.59,298.63h0M33.67,305.31h0M35.75,283.26h0M37.83,285.93h0M39.91,313.33h0M41.99,280.59h0M44.06,300.63h0M46.14,279.92h0M48.22,287.27h0M50.3,307.31h0M52.38,310.65h0M54.46,296.62h0M56.54,285.93h0M58.62,300.63h0M60.7,284.6h0M62.78,279.92h0M64.85,284.6h0M66.93,299.3h0M69.01,281.92h0M71.09,281.92h0M73.17,310.65h0M75.25,285.26h0M77.33,313.33h0M79.41,301.97h0M81.49,283.26h0M83.57,281.92h0M85.64,283.26h0M87.72,299.96h0M89.8,286.6h0M91.88,285.26h0M93.96,299.96h0M96.04,298.63h0M98.12,299.3h0M100.2,314h0M102.28,295.29h0M104.35,284.6h0M106.43,283.26h0M108.51,313.33h0M110.59,280.59h0M112.67,301.3h0M114.75,281.92h0M116.83,314h0M118.91,281.92h0M120.99,283.26h0M123.07,285.93h0M125.14,286.6h0M127.22,287.27h0M129.3,285.93h0M131.38,280.59h0M133.46,283.26h0M135.54,281.92h0M137.62,311.32h0M139.7,279.92h0M141.78,299.96h0M143.86,283.26h0M145.93,285.93h0M148.01,281.92h0M150.09,280.59h0M152.17,281.92h0M154.25,299.96h0M156.33,301.3h0M158.41,281.92h0M160.49,304.64h0M162.57,281.92h0M164.65,299.96h0M166.72,281.92h0M168.8,281.92h0M170.88,303.3h0M172.96,324.69h0M175.04,283.26h0M177.12,302.64h0M179.2,284.6h0M181.28,281.92h0M183.36,287.27h0M185.43,301.97h0M187.51,281.92h0M189.59,285.93h0M191.67,289.94h0M193.75,299.96h0M195.83,281.92h0M197.91,285.93h0M199.99,289.94h0M202.07,285.93h0M204.15,280.59h0M206.22,281.92h0M208.3,297.29h0M210.38,299.96h0M212.46,285.93h0M214.54,285.93h0M216.62,283.26h0M218.7,301.97h0M220.78,287.27h0M222.86,283.26h0M224.94,284.6h0M227.01,312.66h0M229.09,304.64h0M231.17,301.97h0M233.25,301.3h0M235.33,289.94h0M237.41,297.29h0" stroke="#dc2226" stroke-width="3.24" stroke-linecap="round" fill="none"/>
<rect x="21.3" y="235.15" width="226.4" height="147" fill="none" stroke="#000" stroke-width="0.75"/>
<path d="M31.59,382.15v2.5M73.17,382.15v2.5M114.75,382.15v2.5M156.33,382.15v2.5M197.91,382.15v2.5M239.49,382.15v2.5M21.3,375.47h-2.5M21.3,348.74h-2.5M21.3,322.01h-2.5M21.3,295.29h-2.5M21.3,268.56h-2.5M21.3,241.83h-2.5" stroke="#000" stroke-width="0.75" fill="none"/>
<g class="tk" text-anchor="middle">
<text transform="translate(31.89 394.05) scale(0.92 1)">0</text>
<text transform="translate(73.47 394.05) scale(0.92 1)">20</text>
<text transform="translate(115.05 394.05) scale(0.92 1)">40</text>
<text transform="translate(156.63 394.05) scale(0.92 1)">60</text>
<text transform="translate(198.21 394.05) scale(0.92 1)">80</text>
<text transform="translate(239.79 394.05) scale(0.92 1)">100</text>
</g>
<g class="tk" text-anchor="end">
<text transform="translate(17 379.07) scale(0.92 1)">0.0</text>
<text transform="translate(17 352.34) scale(0.92 1)">0.2</text>
<text transform="translate(17 325.61) scale(0.92 1)">0.4</text>
<text transform="translate(17 298.89) scale(0.92 1)">0.6</text>
<text transform="translate(17 272.16) scale(0.92 1)">0.8</text>
<text transform="translate(17 245.43) scale(0.92 1)">1.0</text>
</g>
<text class="ti" text-anchor="middle" transform="translate(134.6 231.25) scale(0.92 1)">Random network 3</text>
<text class="la" text-anchor="middle" transform="translate(134.5 405.65) scale(0.92 1)">Nodes</text>
<rect x="191.2" y="319.65" width="52.0" height="58.0" rx="1.8" fill="#fff" fill-opacity="0.8" stroke="#ccc" stroke-opacity="0.8" stroke-width="0.75"/>
<path d="M195.1,326.85h19" stroke="#1c76ba" stroke-width="1.33" stroke-linecap="square" fill="none"/>
<circle cx="204.6" cy="326.85" r="1.62" fill="#1c76ba"/>
<text class="lg" x="221.6" y="330.15">RD</text>
<path d="M195.1,340.65h19" stroke="#ff7f0e" stroke-width="1.33" stroke-linecap="square" fill="none"/>
<circle cx="204.6" cy="340.65" r="1.62" fill="#ff7f0e"/>
<text class="lg" x="221.6" y="343.95">BC</text>
<path d="M195.1,354.45h19" stroke="#29a32d" stroke-width="1.33" stroke-linecap="square" fill="none"/>
<circle cx="204.6" cy="354.45" r="1.62" fill="#29a32d"/>
<text class="lg" x="221.6" y="357.75">CC<tspan class="sb" dx="0.4" dy="1.7">1</tspan></text>
<path d="M195.1,368.25h19" stroke="#dc2226" stroke-width="1.33" stroke-linecap="square" fill="none"/>
<circle cx="204.6" cy="368.25" r="1.62" fill="#dc2226"/>
<text class="lg" x="221.6" y="371.55">CC<tspan class="sb" dx="0.4" dy="1.7">2</tspan></text>
</g>
<g>
<polyline points="327.58,245.17 329.66,244.5 331.74,267.22 333.81,244.5 335.89,251.19 337.97,263.21 340.04,248.51 342.12,251.19 344.2,263.21 346.28,244.5 348.35,244.5 350.43,248.51 352.51,252.52 354.58,248.51 356.66,241.83 358.74,244.5 360.82,245.84 362.89,247.18 364.97,245.17 367.05,245.84 369.12,244.5 371.2,245.17 373.28,247.18 375.36,245.84 377.43,271.23 379.51,247.18 381.59,247.18 383.66,249.85 385.74,244.5 387.82,245.84 389.9,286.6 391.97,245.84 394.05,245.17 396.13,245.84 398.2,245.17 400.28,245.84 402.36,334.71 404.44,252.52 406.51,245.84 408.59,245.17 410.67,245.84 412.74,245.17 414.82,348.07 416.9,248.51 418.98,245.84 421.05,245.17 423.13,245.84 425.21,246.51 427.28,245.17 429.36,245.84 431.44,245.17 433.52,245.84 435.59,246.51 437.67,245.84 439.75,245.17 441.82,245.84 443.9,246.51 445.98,338.72 448.06,248.51 450.13,245.84 452.21,263.21 454.29,326.69 456.36,252.52 458.44,247.18 460.52,244.5 462.6,245.84 464.67,245.17 466.75,245.84 468.83,245.17 470.9,245.84 472.98,245.17 475.06,245.84 477.14,246.51 479.21,245.17 481.29,245.84 483.37,245.17 485.44,245.84 487.52,248.51 489.6,255.2 491.68,251.19 493.75,245.84 495.83,245.17 497.91,245.84 499.98,245.17 502.06,245.84 504.14,245.17 506.22,245.84 508.29,247.18 510.37,245.17 512.45,245.84 514.52,245.17 516.6,245.84 518.68,247.18 520.76,342.73 522.83,245.84 524.91,245.17 526.99,245.84 529.06,245.17 531.14,245.84 533.22,247.18" fill="none" stroke="#1c76ba" stroke-width="1.33" stroke-linejoin="round"/>
<path d="M327.58,245.17h0M329.66,244.5h0M331.74,267.22h0M333.81,244.5h0M335.89,251.19h0M337.97,263.21h0M340.04,248.51h0M342.12,251.19h0M344.2,263.21h0M346.28,244.5h0M348.35,244.5h0M350.43,248.51h0M352.51,252.52h0M354.58,248.51h0M356.66,241.83h0M358.74,244.5h0M360.82,245.84h0M362.89,247.18h0M364.97,245.17h0M367.05,245.84h0M369.12,244.5h0M371.2,245.17h0M373.28,247.18h0M375.36,245.84h0M377.43,271.23h0M379.51,247.18h0M381.59,247.18h0M383.66,249.85h0M385.74,244.5h0M387.82,245.84h0M389.9,286.6h0M391.97,245.84h0M394.05,245.17h0M396.13,245.84h0M398.2,245.17h0M400.28,245.84h0M402.36,334.71h0M404.44,252.52h0M406.51,245.84h0M408.59,245.17h0M410.67,245.84h0M412.74,245.17h0M414.82,348.07h0M416.9,248.51h0M418.98,245.84h0M421.05,245.17h0M423.13,245.84h0M425.21,246.51h0M427.28,245.17h0M429.36,245.84h0M431.44,245.17h0M433.52,245.84h0M435.59,246.51h0M437.67,245.84h0M439.75,245.17h0M441.82,245.84h0M443.9,246.51h0M445.98,338.72h0M448.06,248.51h0M450.13,245.84h0M452.21,263.21h0M454.29,326.69h0M456.36,252.52h0M458.44,247.18h0M460.52,244.5h0M462.6,245.84h0M464.67,245.17h0M466.75,245.84h0M468.83,245.17h0M470.9,245.84h0M472.98,245.17h0M475.06,245.84h0M477.14,246.51h0M479.21,245.17h0M481.29,245.84h0M483.37,245.17h0M485.44,245.84h0M487.52,248.51h0M489.6,255.2h0M491.68,251.19h0M493.75,245.84h0M495.83,245.17h0M497.91,245.84h0M499.98,245.17h0M502.06,245.84h0M504.14,245.17h0M506.22,245.84h0M508.29,247.18h0M510.37,245.17h0M512.45,245.84h0M514.52,245.17h0M516.6,245.84h0M518.68,247.18h0M520.76,342.73h0M522.83,245.84h0M524.91,245.17h0M526.99,245.84h0M529.06,245.17h0M531.14,245.84h0M533.22,247.18h0" stroke="#1c76ba" stroke-width="3.24" stroke-linecap="round" fill="none"/>
<polyline points="327.58,374.68 329.66,374.32 331.74,374.72 333.81,374.83 335.89,375.21 337.97,375.06 340.04,374.13 342.12,374.6 344.2,374.46 346.28,375.13 348.35,374.84 350.43,374.66 352.51,374.52 354.58,374.72 356.66,374.84 358.74,374.71 360.82,374.42 362.89,374.56 364.97,374.59 367.05,375.22 369.12,374.89 371.2,375.15 373.28,375.25 375.36,374.84 377.43,374.77 379.51,374.54 381.59,374.28 383.66,374.17 385.74,374.17 387.82,375 389.9,375.31 391.97,374.24 394.05,375.15 396.13,374.18 398.2,374.46 400.28,373.16 402.36,374.27 404.44,373.63 406.51,374.79 408.59,375.3 410.67,374.73 412.74,375.2 414.82,375.29 416.9,374.29 418.98,374.57 421.05,375.04 423.13,374.27 425.21,374.59 427.28,374.65 429.36,374.51 431.44,375.27 433.52,374.98 435.59,374.99 437.67,374.81 439.75,374.73 441.82,374.54 443.9,375.15 445.98,374.77 448.06,374.13 450.13,374.2 452.21,374.8 454.29,375.05 456.36,375.13 458.44,374.55 460.52,375.3 462.6,375.27 464.67,374.17 466.75,374.96 468.83,374.97 470.9,375.19 472.98,374.61 475.06,375.21 477.14,372.83 479.21,374.35 481.29,375.07 483.37,375.03 485.44,374.86 487.52,374.54 489.6,374.42 491.68,375.25 493.75,374.15 495.83,374.42 497.91,375.18 499.98,374.26 502.06,374.89 504.14,374.45 506.22,375.21 508.29,374.48 510.37,374.44 512.45,374.55 514.52,374.25 516.6,374.5 518.68,374.24 520.76,373.95 522.83,374.18 524.91,374.49 526.99,375.08 529.06,374.69 531.14,375.26 533.22,375.04" fill="none" stroke="#ff7f0e" stroke-width="1.33" stroke-linejoin="round"/>
<path d="M327.58,374.68h0M329.66,374.32h0M331.74,374.72h0M333.81,374.83h0M335.89,375.21h0M337.97,375.06h0M340.04,374.13h0M342.12,374.6h0M344.2,374.46h0M346.28,375.13h0M348.35,374.84h0M350.43,374.66h0M352.51,374.52h0M354.58,374.72h0M356.66,374.84h0M358.74,374.71h0M360.82,374.42h0M362.89,374.56h0M364.97,374.59h0M367.05,375.22h0M369.12,374.89h0M371.2,375.15h0M373.28,375.25h0M375.36,374.84h0M377.43,374.77h0M379.51,374.54h0M381.59,374.28h0M383.66,374.17h0M385.74,374.17h0M387.82,375h0M389.9,375.31h0M391.97,374.24h0M394.05,375.15h0M396.13,374.18h0M398.2,374.46h0M400.28,373.16h0M402.36,374.27h0M404.44,373.63h0M406.51,374.79h0M408.59,375.3h0M410.67,374.73h0M412.74,375.2h0M414.82,375.29h0M416.9,374.29h0M418.98,374.57h0M421.05,375.04h0M423.13,374.27h0M425.21,374.59h0M427.28,374.65h0M429.36,374.51h0M431.44,375.27h0M433.52,374.98h0M435.59,374.99h0M437.67,374.81h0M439.75,374.73h0M441.82,374.54h0M443.9,375.15h0M445.98,374.77h0M448.06,374.13h0M450.13,374.2h0M452.21,374.8h0M454.29,375.05h0M456.36,375.13h0M458.44,374.55h0M460.52,375.3h0M462.6,375.27h0M464.67,374.17h0M466.75,374.96h0M468.83,374.97h0M470.9,375.19h0M472.98,374.61h0M475.06,375.21h0M477.14,372.83h0M479.21,374.35h0M481.29,375.07h0M483.37,375.03h0M485.44,374.86h0M487.52,374.54h0M489.6,374.42h0M491.68,375.25h0M493.75,374.15h0M495.83,374.42h0M497.91,375.18h0M499.98,374.26h0M502.06,374.89h0M504.14,374.45h0M506.22,375.21h0M508.29,374.48h0M510.37,374.44h0M512.45,374.55h0M514.52,374.25h0M516.6,374.5h0M518.68,374.24h0M520.76,373.95h0M522.83,374.18h0M524.91,374.49h0M526.99,375.08h0M529.06,374.69h0M531.14,375.26h0M533.22,375.04h0" stroke="#ff7f0e" stroke-width="3.24" stroke-linecap="round" fill="none"/>
<polyline points="327.58,263.88 329.66,252.52 331.74,320.68 333.81,257.87 335.89,255.2 337.97,311.99 340.04,259.2 342.12,280.59 344.2,268.56 346.28,255.2 348.35,251.19 350.43,255.2 352.51,263.88 354.58,257.87 356.66,280.59 358.74,259.2 360.82,248.51 362.89,247.18 364.97,252.52 367.05,252.52 369.12,263.88 371.2,251.19 373.28,255.2 375.36,251.19 377.43,295.29 379.51,261.88 381.59,252.52 383.66,264.55 385.74,257.87 387.82,255.2 389.9,263.21 391.97,255.2 394.05,263.88 396.13,255.2 398.2,248.51 400.28,265.89 402.36,310.65 404.44,253.86 406.51,251.19 408.59,255.2 410.67,248.51 412.74,255.2 414.82,325.35 416.9,252.52 418.98,251.19 421.05,257.87 423.13,260.54 425.21,251.19 427.28,259.2 429.36,266.55 431.44,248.51 433.52,252.52 435.59,255.2 437.67,260.54 439.75,248.51 441.82,247.18 443.9,259.2 445.98,325.35 448.06,248.51 450.13,251.19 452.21,268.56 454.29,323.35 456.36,275.24 458.44,255.2 460.52,251.19 462.6,257.87 464.67,252.52 466.75,255.2 468.83,260.54 470.9,251.19 472.98,257.87 475.06,265.89 477.14,251.19 479.21,248.51 481.29,251.19 483.37,264.55 485.44,248.51 487.52,261.88 489.6,305.98 491.68,255.2 493.75,264.55 495.83,265.89 497.91,251.19 499.98,255.2 502.06,247.18 504.14,248.51 506.22,248.51 508.29,252.52 510.37,251.19 512.45,252.52 514.52,269.9 516.6,251.19 518.68,261.88 520.76,305.98 522.83,257.87 524.91,274.57 526.99,268.56 529.06,261.88 531.14,257.2 533.22,253.19" fill="none" stroke="#29a32d" stroke-width="1.33" stroke-linejoin="round"/>
<path d="M327.58,263.88h0M329.66,252.52h0M331.74,320.68h0M333.81,257.87h0M335.89,255.2h0M337.97,311.99h0M340.04,259.2h0M342.12,280.59h0M344.2,268.56h0M346.28,255.2h0M348.35,251.19h0M350.43,255.2h0M352.51,263.88h0M354.58,257.87h0M356.66,280.59h0M358.74,259.2h0M360.82,248.51h0M362.89,247.18h0M364.97,252.52h0M367.05,252.52h0M369.12,263.88h0M371.2,251.19h0M373.28,255.2h0M375.36,251.19h0M377.43,295.29h0M379.51,261.88h0M381.59,252.52h0M383.66,264.55h0M385.74,257.87h0M387.82,255.2h0M389.9,263.21h0M391.97,255.2h0M394.05,263.88h0M396.13,255.2h0M398.2,248.51h0M400.28,265.89h0M402.36,310.65h0M404.44,253.86h0M406.51,251.19h0M408.59,255.2h0M410.67,248.51h0M412.74,255.2h0M414.82,325.35h0M416.9,252.52h0M418.98,251.19h0M421.05,257.87h0M423.13,260.54h0M425.21,251.19h0M427.28,259.2h0M429.36,266.55h0M431.44,248.51h0M433.52,252.52h0M435.59,255.2h0M437.67,260.54h0M439.75,248.51h0M441.82,247.18h0M443.9,259.2h0M445.98,325.35h0M448.06,248.51h0M450.13,251.19h0M452.21,268.56h0M454.29,323.35h0M456.36,275.24h0M458.44,255.2h0M460.52,251.19h0M462.6,257.87h0M464.67,252.52h0M466.75,255.2h0M468.83,260.54h0M470.9,251.19h0M472.98,257.87h0M475.06,265.89h0M477.14,251.19h0M479.21,248.51h0M481.29,251.19h0M483.37,264.55h0M485.44,248.51h0M487.52,261.88h0M489.6,305.98h0M491.68,255.2h0M493.75,264.55h0M495.83,265.89h0M497.91,251.19h0M499.98,255.2h0M502.06,247.18h0M504.14,248.51h0M506.22,248.51h0M508.29,252.52h0M510.37,251.19h0M512.45,252.52h0M514.52,269.9h0M516.6,251.19h0M518.68,261.88h0M520.76,305.98h0M522.83,257.87h0M524.91,274.57h0M526.99,268.56h0M529.06,261.88h0M531.14,257.2h0M533.22,253.19h0" stroke="#29a32d" stroke-width="3.24" stroke-linecap="round" fill="none"/>
<polyline points="327.58,291.28 329.66,291.28 331.74,303.97 333.81,291.95 335.89,293.28 337.97,303.97 340.04,301.3 342.12,288.6 344.2,289.27 346.28,293.28 348.35,287.27 350.43,289.94 352.51,291.28 354.58,287.27 356.66,283.26 358.74,291.95 360.82,295.29 362.89,294.62 364.97,293.95 367.05,293.28 369.12,300.63 371.2,289.94 373.28,286.6 375.36,295.29 377.43,314 379.51,287.94 381.59,294.62 383.66,291.95 385.74,287.27 387.82,287.94 389.9,324.02 391.97,303.3 394.05,292.61 396.13,293.95 398.2,294.62 400.28,287.27 402.36,304.64 404.44,295.29 406.51,295.95 408.59,299.96 410.67,295.29 412.74,303.3 414.82,305.31 416.9,295.29 418.98,302.64 421.05,287.94 423.13,290.61 425.21,295.29 427.28,293.28 429.36,286.6 431.44,287.94 433.52,289.94 435.59,293.95 437.67,293.95 439.75,288.6 441.82,293.95 443.9,295.29 445.98,303.3 448.06,295.29 450.13,287.27 452.21,289.94 454.29,303.97 456.36,295.29 458.44,286.6 460.52,301.3 462.6,287.94 464.67,287.27 466.75,301.3 468.83,286.6 470.9,295.29 472.98,291.28 475.06,285.93 477.14,302.64 479.21,288.6 481.29,301.97 483.37,295.29 485.44,292.61 487.52,285.93 489.6,316.67 491.68,295.29 493.75,289.94 495.83,287.27 497.91,291.95 499.98,295.29 502.06,295.95 504.14,295.29 506.22,288.6 508.29,291.28 510.37,299.96 512.45,287.94 514.52,293.95 516.6,286.6 518.68,286.6 520.76,303.97 522.83,289.27 524.91,291.95 526.99,293.95 529.06,289.94 531.14,293.95 533.22,295.29" fill="none" stroke="#dc2226" stroke-width="1.33" stroke-linejoin="round"/>
<path d="M327.58,291.28h0M329.66,291.28h0M331.74,303.97h0M333.81,291.95h0M335.89,293.28h0M337.97,303.97h0M340.04,301.3h0M342.12,288.6h0M344.2,289.27h0M346.28,293.28h0M348.35,287.27h0M350.43,289.94h0M352.51,291.28h0M354.58,287.27h0M356.66,283.26h0M358.74,291.95h0M360.82,295.29h0M362.89,294.62h0M364.97,293.95h0M367.05,293.28h0M369.12,300.63h0M371.2,289.94h0M373.28,286.6h0M375.36,295.29h0M377.43,314h0M379.51,287.94h0M381.59,294.62h0M383.66,291.95h0M385.74,287.27h0M387.82,287.94h0M389.9,324.02h0M391.97,303.3h0M394.05,292.61h0M396.13,293.95h0M398.2,294.62h0M400.28,287.27h0M402.36,304.64h0M404.44,295.29h0M406.51,295.95h0M408.59,299.96h0M410.67,295.29h0M412.74,303.3h0M414.82,305.31h0M416.9,295.29h0M418.98,302.64h0M421.05,287.94h0M423.13,290.61h0M425.21,295.29h0M427.28,293.28h0M429.36,286.6h0M431.44,287.94h0M433.52,289.94h0M435.59,293.95h0M437.67,293.95h0M439.75,288.6h0M441.82,293.95h0M443.9,295.29h0M445.98,303.3h0M448.06,295.29h0M450.13,287.27h0M452.21,289.94h0M454.29,303.97h0M456.36,295.29h0M458.44,286.6h0M460.52,301.3h0M462.6,287.94h0M464.67,287.27h0M466.75,301.3h0M468.83,286.6h0M470.9,295.29h0M472.98,291.28h0M475.06,285.93h0M477.14,302.64h0M479.21,288.6h0M481.29,301.97h0M483.37,295.29h0M485.44,292.61h0M487.52,285.93h0M489.6,316.67h0M491.68,295.29h0M493.75,289.94h0M495.83,287.27h0M497.91,291.95h0M499.98,295.29h0M502.06,295.95h0M504.14,295.29h0M506.22,288.6h0M508.29,291.28h0M510.37,299.96h0M512.45,287.94h0M514.52,293.95h0M516.6,286.6h0M518.68,286.6h0M520.76,303.97h0M522.83,289.27h0M524.91,291.95h0M526.99,293.95h0M529.06,289.94h0M531.14,293.95h0M533.22,295.29h0" stroke="#dc2226" stroke-width="3.24" stroke-linecap="round" fill="none"/>
<rect x="317.3" y="235.15" width="226.2" height="147" fill="none" stroke="#000" stroke-width="0.75"/>
<path d="M327.58,382.15v2.5M369.12,382.15v2.5M410.67,382.15v2.5M452.21,382.15v2.5M493.75,382.15v2.5M535.3,382.15v2.5M317.3,375.47h-2.5M317.3,348.74h-2.5M317.3,322.01h-2.5M317.3,295.29h-2.5M317.3,268.56h-2.5M317.3,241.83h-2.5" stroke="#000" stroke-width="0.75" fill="none"/>
<g class="tk" text-anchor="middle">
<text transform="translate(327.88 394.05) scale(0.92 1)">0</text>
<text transform="translate(369.42 394.05) scale(0.92 1)">20</text>
<text transform="translate(410.97 394.05) scale(0.92 1)">40</text>
<text transform="translate(452.51 394.05) scale(0.92 1)">60</text>
<text transform="translate(494.05 394.05) scale(0.92 1)">80</text>
<text transform="translate(535.6 394.05) scale(0.92 1)">100</text>
</g>
<g class="tk" text-anchor="end">
<text transform="translate(313 379.07) scale(0.92 1)">0.0</text>
<text transform="translate(313 352.34) scale(0.92 1)">0.2</text>
<text transform="translate(313 325.61) scale(0.92 1)">0.4</text>
<text transform="translate(313 298.89) scale(0.92 1)">0.6</text>
<text transform="translate(313 272.16) scale(0.92 1)">0.8</text>
<text transform="translate(313 245.43) scale(0.92 1)">1.0</text>
</g>
<text class="ti" text-anchor="middle" transform="translate(430.5 231.25) scale(0.92 1)">Random network 4</text>
<text class="la" text-anchor="middle" transform="translate(430.4 405.65) scale(0.92 1)">Nodes</text>
<rect x="321.8" y="319.65" width="52.0" height="58.0" rx="1.8" fill="#fff" fill-opacity="0.8" stroke="#ccc" stroke-opacity="0.8" stroke-width="0.75"/>
<path d="M325.7,326.85h19" stroke="#1c76ba" stroke-width="1.33" stroke-linecap="square" fill="none"/>
<circle cx="335.2" cy="326.85" r="1.62" fill="#1c76ba"/>
<text class="lg" x="352.2" y="330.15">RD</text>
<path d="M325.7,340.65h19" stroke="#ff7f0e" stroke-width="1.33" stroke-linecap="square" fill="none"/>
<circle cx="335.2" cy="340.65" r="1.62" fill="#ff7f0e"/>
<text class="lg" x="352.2" y="343.95">BC</text>
<path d="M325.7,354.45h19" stroke="#29a32d" stroke-width="1.33" stroke-linecap="square" fill="none"/>
<circle cx="335.2" cy="354.45" r="1.62" fill="#29a32d"/>
<text class="lg" x="352.2" y="357.75">CC<tspan class="sb" dx="0.4" dy="1.7">1</tspan></text>
<path d="M325.7,368.25h19" stroke="#dc2226" stroke-width="1.33" stroke-linecap="square" fill="none"/>
<circle cx="335.2" cy="368.25" r="1.62" fill="#dc2226"/>
<text class="lg" x="352.2" y="371.55">CC<tspan class="sb" dx="0.4" dy="1.7">2</tspan></text>
</g>
<g>
<polyline points="31.59,463.16 33.67,535.33 35.75,485.88 37.83,459.15 39.91,485.88 41.99,463.16 44.06,467.17 46.14,459.15 48.22,465.84 50.3,459.15 52.38,459.15 54.46,460.49 56.54,459.15 58.62,459.82 60.7,461.83 62.78,459.15 64.85,459.82 66.93,459.15 69.01,460.49 71.09,459.15 73.17,465.84 75.25,467.17 77.33,459.15 79.41,459.82 81.49,463.16 83.57,459.15 85.64,459.82 87.72,538.67 89.8,459.15 91.88,465.84 93.96,460.49 96.04,463.16 98.12,459.15 100.2,459.15 102.28,485.88 104.35,469.85 106.43,463.16 108.51,459.15 110.59,463.16 112.67,463.16 114.75,469.85 116.83,463.16 118.91,460.49 120.99,465.84 123.07,460.49 125.14,459.82 127.22,460.49 129.3,459.82 131.38,460.49 133.46,465.84 135.54,469.85 137.62,459.15 139.7,469.85 141.78,485.88 143.86,463.16 145.93,459.15 148.01,463.16 150.09,459.15 152.17,463.16 154.25,475.19 156.33,463.16 158.41,460.49 160.49,456.48 162.57,469.85 164.65,465.84 166.72,461.83 168.8,463.16 170.88,460.49 172.96,461.83 175.04,459.82 177.12,460.49 179.2,459.15 181.28,461.83 183.36,463.16 185.43,475.19 187.51,461.83 189.59,463.16 191.67,460.49 193.75,461.83 195.83,463.16 197.91,460.49 199.99,463.16 202.07,459.82 204.15,461.83 206.22,463.16 208.3,460.49 210.38,463.16 212.46,485.88 214.54,463.16 216.62,475.19 218.7,459.15 220.78,460.49 222.86,463.16 224.94,473.85 227.01,538.67 229.09,463.16 231.17,541.34 233.25,460.49 235.33,465.84 237.41,542.68" fill="none" stroke="#1c76ba" stroke-width="1.33" stroke-linejoin="round"/>
<path d="M31.59,463.16h0M33.67,535.33h0M35.75,485.88h0M37.83,459.15h0M39.91,485.88h0M41.99,463.16h0M44.06,467.17h0M46.14,459.15h0M48.22,465.84h0M50.3,459.15h0M52.38,459.15h0M54.46,460.49h0M56.54,459.15h0M58.62,459.82h0M60.7,461.83h0M62.78,459.15h0M64.85,459.82h0M66.93,459.15h0M69.01,460.49h0M71.09,459.15h0M73.17,465.84h0M75.25,467.17h0M77.33,459.15h0M79.41,459.82h0M81.49,463.16h0M83.57,459.15h0M85.64,459.82h0M87.72,538.67h0M89.8,459.15h0M91.88,465.84h0M93.96,460.49h0M96.04,463.16h0M98.12,459.15h0M100.2,459.15h0M102.28,485.88h0M104.35,469.85h0M106.43,463.16h0M108.51,459.15h0M110.59,463.16h0M112.67,463.16h0M114.75,469.85h0M116.83,463.16h0M118.91,460.49h0M120.99,465.84h0M123.07,460.49h0M125.14,459.82h0M127.22,460.49h0M129.3,459.82h0M131.38,460.49h0M133.46,465.84h0M135.54,469.85h0M137.62,459.15h0M139.7,469.85h0M141.78,485.88h0M143.86,463.16h0M145.93,459.15h0M148.01,463.16h0M150.09,459.15h0M152.17,463.16h0M154.25,475.19h0M156.33,463.16h0M158.41,460.49h0M160.49,456.48h0M162.57,469.85h0M164.65,465.84h0M166.72,461.83h0M168.8,463.16h0M170.88,460.49h0M172.96,461.83h0M175.04,459.82h0M177.12,460.49h0M179.2,459.15h0M181.28,461.83h0M183.36,463.16h0M185.43,475.19h0M187.51,461.83h0M189.59,463.16h0M191.67,460.49h0M193.75,461.83h0M195.83,463.16h0M197.91,460.49h0M199.99,463.16h0M202.07,459.82h0M204.15,461.83h0M206.22,463.16h0M208.3,460.49h0M210.38,463.16h0M212.46,485.88h0M214.54,463.16h0M216.62,475.19h0M218.7,459.15h0M220.78,460.49h0M222.86,463.16h0M224.94,473.85h0M227.01,538.67h0M229.09,463.16h0M231.17,541.34h0M233.25,460.49h0M235.33,465.84h0M237.41,542.68h0" stroke="#1c76ba" stroke-width="3.24" stroke-linecap="round" fill="none"/>
<polyline points="31.59,589.59 33.67,588.83 35.75,589.03 37.83,589.98 39.91,589.69 41.99,589.46 44.06,589.33 46.14,588.99 48.22,589.57 50.3,588.92 52.38,589.84 54.46,589.06 56.54,589.76 58.62,589.59 60.7,589.78 62.78,589.52 64.85,589.82 66.93,589.48 69.01,589.73 71.09,588.87 73.17,588.85 75.25,589.7 77.33,589.2 79.41,587.62 81.49,589.74 83.57,589.91 85.64,589.53 87.72,589.33 89.8,589.57 91.88,589.31 93.96,589.88 96.04,589.73 98.12,589.56 100.2,589.82 102.28,587.08 104.35,589.65 106.43,589.98 108.51,589.31 110.59,589.63 112.67,589.89 114.75,589.62 116.83,589.66 118.91,588.81 120.99,589.44 123.07,589.08 125.14,589.83 127.22,589.62 129.3,589.3 131.38,589.2 133.46,589.39 135.54,589.48 137.62,589.55 139.7,589.24 141.78,589.48 143.86,589.8 145.93,589.25 148.01,589.07 150.09,588.87 152.17,589.89 154.25,589.36 156.33,589.11 158.41,589.17 160.49,589.45 162.57,587.73 164.65,589.48 166.72,589.31 168.8,589.52 170.88,589.7 172.96,589.19 175.04,588.01 177.12,589.53 179.2,589.51 181.28,589.23 183.36,589.15 185.43,588.96 187.51,587.1 189.59,589.78 191.67,588.85 193.75,589.6 195.83,589.37 197.91,589.76 199.99,588.98 202.07,588.25 204.15,588.89 206.22,589.08 208.3,588.85 210.38,588.84 212.46,589.97 214.54,589.47 216.62,589.88 218.7,589.11 220.78,589.59 222.86,589.43 224.94,589.73 227.01,588.81 229.09,589.81 231.17,589.8 233.25,589.27 235.33,588.96 237.41,587.69" fill="none" stroke="#ff7f0e" stroke-width="1.33" stroke-linejoin="round"/>
<path d="M31.59,589.59h0M33.67,588.83h0M35.75,589.03h0M37.83,589.98h0M39.91,589.69h0M41.99,589.46h0M44.06,589.33h0M46.14,588.99h0M48.22,589.57h0M50.3,588.92h0M52.38,589.84h0M54.46,589.06h0M56.54,589.76h0M58.62,589.59h0M60.7,589.78h0M62.78,589.52h0M64.85,589.82h0M66.93,589.48h0M69.01,589.73h0M71.09,588.87h0M73.17,588.85h0M75.25,589.7h0M77.33,589.2h0M79.41,587.62h0M81.49,589.74h0M83.57,589.91h0M85.64,589.53h0M87.72,589.33h0M89.8,589.57h0M91.88,589.31h0M93.96,589.88h0M96.04,589.73h0M98.12,589.56h0M100.2,589.82h0M102.28,587.08h0M104.35,589.65h0M106.43,589.98h0M108.51,589.31h0M110.59,589.63h0M112.67,589.89h0M114.75,589.62h0M116.83,589.66h0M118.91,588.81h0M120.99,589.44h0M123.07,589.08h0M125.14,589.83h0M127.22,589.62h0M129.3,589.3h0M131.38,589.2h0M133.46,589.39h0M135.54,589.48h0M137.62,589.55h0M139.7,589.24h0M141.78,589.48h0M143.86,589.8h0M145.93,589.25h0M148.01,589.07h0M150.09,588.87h0M152.17,589.89h0M154.25,589.36h0M156.33,589.11h0M158.41,589.17h0M160.49,589.45h0M162.57,587.73h0M164.65,589.48h0M166.72,589.31h0M168.8,589.52h0M170.88,589.7h0M172.96,589.19h0M175.04,588.01h0M177.12,589.53h0M179.2,589.51h0M181.28,589.23h0M183.36,589.15h0M185.43,588.96h0M187.51,587.1h0M189.59,589.78h0M191.67,588.85h0M193.75,589.6h0M195.83,589.37h0M197.91,589.76h0M199.99,588.98h0M202.07,588.25h0M204.15,588.89h0M206.22,589.08h0M208.3,588.85h0M210.38,588.84h0M212.46,589.97h0M214.54,589.47h0M216.62,589.88h0M218.7,589.11h0M220.78,589.59h0M222.86,589.43h0M224.94,589.73h0M227.01,588.81h0M229.09,589.81h0M231.17,589.8h0M233.25,589.27h0M235.33,588.96h0M237.41,587.69h0" stroke="#ff7f0e" stroke-width="3.24" stroke-linecap="round" fill="none"/>
<polyline points="31.59,461.83 33.67,496.57 35.75,471.18 37.83,461.83 39.91,464.5 41.99,475.19 44.06,484.55 46.14,465.84 48.22,485.88 50.3,463.16 52.38,461.83 54.46,469.85 56.54,463.16 58.62,461.83 60.7,501.25 62.78,463.16 64.85,460.49 66.93,461.83 69.01,469.85 71.09,465.84 73.17,494.57 75.25,485.21 77.33,465.84 79.41,469.85 81.49,494.57 83.57,469.85 85.64,461.83 87.72,516.62 89.8,469.85 91.88,493.9 93.96,465.84 96.04,485.21 98.12,465.84 100.2,469.85 102.28,472.52 104.35,502.59 106.43,494.57 108.51,467.17 110.59,472.52 112.67,493.9 114.75,496.57 116.83,467.17 118.91,463.16 120.99,473.85 123.07,469.85 125.14,494.57 127.22,463.16 129.3,460.49 131.38,465.84 133.46,469.85 135.54,485.21 137.62,465.84 139.7,492.56 141.78,473.85 143.86,463.16 145.93,472.52 148.01,469.85 150.09,463.16 152.17,472.52 154.25,485.21 156.33,469.85 158.41,463.16 160.49,469.85 162.57,465.84 164.65,486.55 166.72,465.84 168.8,500.58 170.88,465.84 172.96,467.17 175.04,463.16 177.12,469.85 179.2,469.85 181.28,465.84 183.36,465.84 185.43,472.52 187.51,465.84 189.59,469.85 191.67,485.21 193.75,467.17 195.83,465.84 197.91,467.17 199.99,473.85 202.07,461.83 204.15,465.84 206.22,499.25 208.3,463.16 210.38,465.84 212.46,469.85 214.54,463.16 216.62,469.85 218.7,465.84 220.78,469.85 222.86,493.9 224.94,472.52 227.01,503.25 229.09,463.16 231.17,496.57 233.25,472.52 235.33,472.52 237.41,496.57" fill="none" stroke="#29a32d" stroke-width="1.33" stroke-linejoin="round"/>
<path d="M31.59,461.83h0M33.67,496.57h0M35.75,471.18h0M37.83,461.83h0M39.91,464.5h0M41.99,475.19h0M44.06,484.55h0M46.14,465.84h0M48.22,485.88h0M50.3,463.16h0M52.38,461.83h0M54.46,469.85h0M56.54,463.16h0M58.62,461.83h0M60.7,501.25h0M62.78,463.16h0M64.85,460.49h0M66.93,461.83h0M69.01,469.85h0M71.09,465.84h0M73.17,494.57h0M75.25,485.21h0M77.33,465.84h0M79.41,469.85h0M81.49,494.57h0M83.57,469.85h0M85.64,461.83h0M87.72,516.62h0M89.8,469.85h0M91.88,493.9h0M93.96,465.84h0M96.04,485.21h0M98.12,465.84h0M100.2,469.85h0M102.28,472.52h0M104.35,502.59h0M106.43,494.57h0M108.51,467.17h0M110.59,472.52h0M112.67,493.9h0M114.75,496.57h0M116.83,467.17h0M118.91,463.16h0M120.99,473.85h0M123.07,469.85h0M125.14,494.57h0M127.22,463.16h0M129.3,460.49h0M131.38,465.84h0M133.46,469.85h0M135.54,485.21h0M137.62,465.84h0M139.7,492.56h0M141.78,473.85h0M143.86,463.16h0M145.93,472.52h0M148.01,469.85h0M150.09,463.16h0M152.17,472.52h0M154.25,485.21h0M156.33,469.85h0M158.41,463.16h0M160.49,469.85h0M162.57,465.84h0M164.65,486.55h0M166.72,465.84h0M168.8,500.58h0M170.88,465.84h0M172.96,467.17h0M175.04,463.16h0M177.12,469.85h0M179.2,469.85h0M181.28,465.84h0M183.36,465.84h0M185.43,472.52h0M187.51,465.84h0M189.59,469.85h0M191.67,485.21h0M193.75,467.17h0M195.83,465.84h0M197.91,467.17h0M199.99,473.85h0M202.07,461.83h0M204.15,465.84h0M206.22,499.25h0M208.3,463.16h0M210.38,465.84h0M212.46,469.85h0M214.54,463.16h0M216.62,469.85h0M218.7,465.84h0M220.78,469.85h0M222.86,493.9h0M224.94,472.52h0M227.01,503.25h0M229.09,463.16h0M231.17,496.57h0M233.25,472.52h0M235.33,472.52h0M237.41,496.57h0" stroke="#29a32d" stroke-width="3.24" stroke-linecap="round" fill="none"/>
<polyline points="31.59,503.92 33.67,517.95 35.75,521.3 37.83,503.25 39.91,531.32 41.99,520.63 44.06,518.62 46.14,499.25 48.22,517.29 50.3,498.58 52.38,501.25 54.46,494.57 56.54,496.57 58.62,503.92 60.7,514.61 62.78,503.25 64.85,497.24 66.93,501.92 69.01,495.24 71.09,499.25 73.17,514.61 75.25,519.29 77.33,497.91 79.41,496.57 81.49,518.62 83.57,495.9 85.64,500.58 87.72,515.28 89.8,497.24 91.88,514.61 93.96,497.91 96.04,514.61 98.12,493.23 100.2,500.58 102.28,522.63 104.35,518.62 106.43,516.62 108.51,499.25 110.59,519.29 112.67,519.29 114.75,515.28 116.83,499.91 118.91,501.25 120.99,519.29 123.07,497.24 125.14,514.61 127.22,500.58 129.3,497.24 131.38,494.57 133.46,497.24 135.54,518.62 137.62,500.58 139.7,518.62 141.78,531.32 143.86,527.31 145.93,500.58 148.01,527.31 150.09,497.91 152.17,501.25 154.25,516.62 156.33,497.24 158.41,526.64 160.49,492.56 162.57,505.26 164.65,517.29 166.72,497.24 168.8,519.96 170.88,496.57 172.96,499.25 175.04,503.25 177.12,502.59 179.2,497.91 181.28,495.9 183.36,493.9 185.43,531.32 187.51,495.9 189.59,496.57 191.67,515.95 193.75,498.58 195.83,497.91 197.91,499.25 199.99,520.63 202.07,501.25 204.15,499.91 206.22,514.61 208.3,499.91 210.38,503.25 212.46,531.32 214.54,501.25 216.62,531.32 218.7,492.56 220.78,497.91 222.86,515.95 224.94,494.57 227.01,519.29 229.09,502.59 231.17,515.28 233.25,495.9 235.33,499.25 237.41,515.95" fill="none" stroke="#dc2226" stroke-width="1.33" stroke-linejoin="round"/>
<path d="M31.59,503.92h0M33.67,517.95h0M35.75,521.3h0M37.83,503.25h0M39.91,531.32h0M41.99,520.63h0M44.06,518.62h0M46.14,499.25h0M48.22,517.29h0M50.3,498.58h0M52.38,501.25h0M54.46,494.57h0M56.54,496.57h0M58.62,503.92h0M60.7,514.61h0M62.78,503.25h0M64.85,497.24h0M66.93,501.92h0M69.01,495.24h0M71.09,499.25h0M73.17,514.61h0M75.25,519.29h0M77.33,497.91h0M79.41,496.57h0M81.49,518.62h0M83.57,495.9h0M85.64,500.58h0M87.72,515.28h0M89.8,497.24h0M91.88,514.61h0M93.96,497.91h0M96.04,514.61h0M98.12,493.23h0M100.2,500.58h0M102.28,522.63h0M104.35,518.62h0M106.43,516.62h0M108.51,499.25h0M110.59,519.29h0M112.67,519.29h0M114.75,515.28h0M116.83,499.91h0M118.91,501.25h0M120.99,519.29h0M123.07,497.24h0M125.14,514.61h0M127.22,500.58h0M129.3,497.24h0M131.38,494.57h0M133.46,497.24h0M135.54,518.62h0M137.62,500.58h0M139.7,518.62h0M141.78,531.32h0M143.86,527.31h0M145.93,500.58h0M148.01,527.31h0M150.09,497.91h0M152.17,501.25h0M154.25,516.62h0M156.33,497.24h0M158.41,526.64h0M160.49,492.56h0M162.57,505.26h0M164.65,517.29h0M166.72,497.24h0M168.8,519.96h0M170.88,496.57h0M172.96,499.25h0M175.04,503.25h0M177.12,502.59h0M179.2,497.91h0M181.28,495.9h0M183.36,493.9h0M185.43,531.32h0M187.51,495.9h0M189.59,496.57h0M191.67,515.95h0M193.75,498.58h0M195.83,497.91h0M197.91,499.25h0M199.99,520.63h0M202.07,501.25h0M204.15,499.91h0M206.22,514.61h0M208.3,499.91h0M210.38,503.25h0M212.46,531.32h0M214.54,501.25h0M216.62,531.32h0M218.7,492.56h0M220.78,497.91h0M222.86,515.95h0M224.94,494.57h0M227.01,519.29h0M229.09,502.59h0M231.17,515.28h0M233.25,495.9h0M235.33,499.25h0M237.41,515.95h0" stroke="#dc2226" stroke-width="3.24" stroke-linecap="round" fill="none"/>
<rect x="21.3" y="449.8" width="226.4" height="147" fill="none" stroke="#000" stroke-width="0.75"/>
<path d="M31.59,596.8v2.5M73.17,596.8v2.5M114.75,596.8v2.5M156.33,596.8v2.5M197.91,596.8v2.5M239.49,596.8v2.5M21.3,590.12h-2.5M21.3,563.39h-2.5M21.3,536.66h-2.5M21.3,509.94h-2.5M21.3,483.21h-2.5M21.3,456.48h-2.5" stroke="#000" stroke-width="0.75" fill="none"/>
<g class="tk" text-anchor="middle">
<text transform="translate(31.89 608.7) scale(0.92 1)">0</text>
<text transform="translate(73.47 608.7) scale(0.92 1)">20</text>
<text transform="translate(115.05 608.7) scale(0.92 1)">40</text>
<text transform="translate(156.63 608.7) scale(0.92 1)">60</text>
<text transform="translate(198.21 608.7) scale(0.92 1)">80</text>
<text transform="translate(239.79 608.7) scale(0.92 1)">100</text>
</g>
<g class="tk" text-anchor="end">
<text transform="translate(17 593.72) scale(0.92 1)">0.0</text>
<text transform="translate(17 566.99) scale(0.92 1)">0.2</text>
<text transform="translate(17 540.26) scale(0.92 1)">0.4</text>
<text transform="translate(17 513.54) scale(0.92 1)">0.6</text>
<text transform="translate(17 486.81) scale(0.92 1)">0.8</text>
<text transform="translate(17 460.08) scale(0.92 1)">1.0</text>
</g>
<text class="ti" text-anchor="middle" transform="translate(134.6 445.9) scale(0.92 1)">Random network 5</text>
<text class="la" text-anchor="middle" transform="translate(134.5 620.3) scale(0.92 1)">Nodes</text>
<rect x="25.8" y="534.3" width="52.0" height="58.0" rx="1.8" fill="#fff" fill-opacity="0.8" stroke="#ccc" stroke-opacity="0.8" stroke-width="0.75"/>
<path d="M29.7,541.5h19" stroke="#1c76ba" stroke-width="1.33" stroke-linecap="square" fill="none"/>
<circle cx="39.2" cy="541.5" r="1.62" fill="#1c76ba"/>
<text class="lg" x="56.2" y="544.8">RD</text>
<path d="M29.7,555.3h19" stroke="#ff7f0e" stroke-width="1.33" stroke-linecap="square" fill="none"/>
<circle cx="39.2" cy="555.3" r="1.62" fill="#ff7f0e"/>
<text class="lg" x="56.2" y="558.6">BC</text>
<path d="M29.7,569.1h19" stroke="#29a32d" stroke-width="1.33" stroke-linecap="square" fill="none"/>
<circle cx="39.2" cy="569.1" r="1.62" fill="#29a32d"/>
<text class="lg" x="56.2" y="572.4">CC<tspan class="sb" dx="0.4" dy="1.7">1</tspan></text>
<path d="M29.7,582.9h19" stroke="#dc2226" stroke-width="1.33" stroke-linecap="square" fill="none"/>
<circle cx="39.2" cy="582.9" r="1.62" fill="#dc2226"/>
<text class="lg" x="56.2" y="586.2">CC<tspan class="sb" dx="0.4" dy="1.7">2</tspan></text>
</g>
<g>
<polyline points="327.58,465.84 329.66,461.83 331.74,465.84 333.81,459.15 335.89,465.84 337.97,461.83 340.04,463.16 342.12,469.85 344.2,465.84 346.28,467.17 348.35,512.61 350.43,465.84 352.51,469.85 354.58,459.15 356.66,460.49 358.74,459.15 360.82,460.49 362.89,465.84 364.97,463.16 367.05,503.25 369.12,463.16 371.2,465.84 373.28,463.16 375.36,465.84 377.43,461.83 379.51,475.19 381.59,465.84 383.66,516.62 385.74,465.84 387.82,461.83 389.9,534.66 391.97,461.83 394.05,463.16 396.13,465.84 398.2,512.61 400.28,479.2 402.36,465.84 404.44,467.17 406.51,465.84 408.59,460.49 410.67,465.84 412.74,461.83 414.82,503.25 416.9,460.49 418.98,465.84 421.05,463.16 423.13,531.99 425.21,533.32 427.28,492.56 429.36,465.84 431.44,463.16 433.52,469.85 435.59,461.83 437.67,465.84 439.75,530.65 441.82,467.17 443.9,460.49 445.98,461.83 448.06,465.84 450.13,469.85 452.21,465.84 454.29,463.16 456.36,461.83 458.44,465.84 460.52,460.49 462.6,465.84 464.67,463.16 466.75,461.83 468.83,460.49 470.9,463.16 472.98,465.84 475.06,461.83 477.14,463.16 479.21,456.48 481.29,461.83 483.37,463.16 485.44,465.84 487.52,499.91 489.6,460.49 491.68,463.16 493.75,461.83 495.83,465.84 497.91,460.49 499.98,463.16 502.06,461.83 504.14,460.49 506.22,463.16 508.29,465.84 510.37,509.94 512.45,463.16 514.52,465.84 516.6,464.5 518.68,465.84 520.76,507.26 522.83,460.49 524.91,465.84 526.99,463.16 529.06,465.84 531.14,464.5 533.22,463.16" fill="none" stroke="#1c76ba" stroke-width="1.33" stroke-linejoin="round"/>
<path d="M327.58,465.84h0M329.66,461.83h0M331.74,465.84h0M333.81,459.15h0M335.89,465.84h0M337.97,461.83h0M340.04,463.16h0M342.12,469.85h0M344.2,465.84h0M346.28,467.17h0M348.35,512.61h0M350.43,465.84h0M352.51,469.85h0M354.58,459.15h0M356.66,460.49h0M358.74,459.15h0M360.82,460.49h0M362.89,465.84h0M364.97,463.16h0M367.05,503.25h0M369.12,463.16h0M371.2,465.84h0M373.28,463.16h0M375.36,465.84h0M377.43,461.83h0M379.51,475.19h0M381.59,465.84h0M383.66,516.62h0M385.74,465.84h0M387.82,461.83h0M389.9,534.66h0M391.97,461.83h0M394.05,463.16h0M396.13,465.84h0M398.2,512.61h0M400.28,479.2h0M402.36,465.84h0M404.44,467.17h0M406.51,465.84h0M408.59,460.49h0M410.67,465.84h0M412.74,461.83h0M414.82,503.25h0M416.9,460.49h0M418.98,465.84h0M421.05,463.16h0M423.13,531.99h0M425.21,533.32h0M427.28,492.56h0M429.36,465.84h0M431.44,463.16h0M433.52,469.85h0M435.59,461.83h0M437.67,465.84h0M439.75,530.65h0M441.82,467.17h0M443.9,460.49h0M445.98,461.83h0M448.06,465.84h0M450.13,469.85h0M452.21,465.84h0M454.29,463.16h0M456.36,461.83h0M458.44,465.84h0M460.52,460.49h0M462.6,465.84h0M464.67,463.16h0M466.75,461.83h0M468.83,460.49h0M470.9,463.16h0M472.98,465.84h0M475.06,461.83h0M477.14,463.16h0M479.21,456.48h0M481.29,461.83h0M483.37,463.16h0M485.44,465.84h0M487.52,499.91h0M489.6,460.49h0M491.68,463.16h0M493.75,461.83h0M495.83,465.84h0M497.91,460.49h0M499.98,463.16h0M502.06,461.83h0M504.14,460.49h0M506.22,463.16h0M508.29,465.84h0M510.37,509.94h0M512.45,463.16h0M514.52,465.84h0M516.6,464.5h0M518.68,465.84h0M520.76,507.26h0M522.83,460.49h0M524.91,465.84h0M526.99,463.16h0M529.06,465.84h0M531.14,464.5h0M533.22,463.16h0" stroke="#1c76ba" stroke-width="3.24" stroke-linecap="round" fill="none"/>
<polyline points="327.58,589.94 329.66,589.81 331.74,589.18 333.81,589.44 335.89,589.96 337.97,589.54 340.04,589.33 342.12,589.46 344.2,588.96 346.28,587.91 348.35,589.39 350.43,589.27 352.51,589.29 354.58,587.61 356.66,588.98 358.74,588.92 360.82,589.86 362.89,589.28 364.97,587.37 367.05,589.04 369.12,589.59 371.2,589.14 373.28,588.96 375.36,589.92 377.43,589.54 379.51,589.26 381.59,589.32 383.66,589.39 385.74,588.84 387.82,589.93 389.9,588.25 391.97,589.88 394.05,589.8 396.13,589.85 398.2,588.65 400.28,588.9 402.36,589.84 404.44,588.79 406.51,588.92 408.59,589.12 410.67,588.86 412.74,588.97 414.82,589.52 416.9,589.87 418.98,588.86 421.05,589.16 423.13,589.67 425.21,588.89 427.28,589.57 429.36,589.77 431.44,589.14 433.52,589.18 435.59,589.72 437.67,589.72 439.75,588.79 441.82,588.59 443.9,589.33 445.98,589.37 448.06,588.95 450.13,589.29 452.21,589.83 454.29,587.88 456.36,589.83 458.44,589.74 460.52,589.97 462.6,589.59 464.67,589.82 466.75,589.15 468.83,589.93 470.9,589.14 472.98,587.28 475.06,589.81 477.14,589.11 479.21,589.21 481.29,589.18 483.37,589.41 485.44,588.89 487.52,589.32 489.6,589.25 491.68,589.36 493.75,589.73 495.83,589.22 497.91,588.28 499.98,588.92 502.06,588.9 504.14,589.71 506.22,589.25 508.29,589.36 510.37,589.4 512.45,589.63 514.52,589.45 516.6,589.82 518.68,589.55 520.76,589.04 522.83,589.45 524.91,589.03 526.99,589.43 529.06,588.79 531.14,589.27 533.22,589.93" fill="none" stroke="#ff7f0e" stroke-width="1.33" stroke-linejoin="round"/>
<path d="M327.58,589.94h0M329.66,589.81h0M331.74,589.18h0M333.81,589.44h0M335.89,589.96h0M337.97,589.54h0M340.04,589.33h0M342.12,589.46h0M344.2,588.96h0M346.28,587.91h0M348.35,589.39h0M350.43,589.27h0M352.51,589.29h0M354.58,587.61h0M356.66,588.98h0M358.74,588.92h0M360.82,589.86h0M362.89,589.28h0M364.97,587.37h0M367.05,589.04h0M369.12,589.59h0M371.2,589.14h0M373.28,588.96h0M375.36,589.92h0M377.43,589.54h0M379.51,589.26h0M381.59,589.32h0M383.66,589.39h0M385.74,588.84h0M387.82,589.93h0M389.9,588.25h0M391.97,589.88h0M394.05,589.8h0M396.13,589.85h0M398.2,588.65h0M400.28,588.9h0M402.36,589.84h0M404.44,588.79h0M406.51,588.92h0M408.59,589.12h0M410.67,588.86h0M412.74,588.97h0M414.82,589.52h0M416.9,589.87h0M418.98,588.86h0M421.05,589.16h0M423.13,589.67h0M425.21,588.89h0M427.28,589.57h0M429.36,589.77h0M431.44,589.14h0M433.52,589.18h0M435.59,589.72h0M437.67,589.72h0M439.75,588.79h0M441.82,588.59h0M443.9,589.33h0M445.98,589.37h0M448.06,588.95h0M450.13,589.29h0M452.21,589.83h0M454.29,587.88h0M456.36,589.83h0M458.44,589.74h0M460.52,589.97h0M462.6,589.59h0M464.67,589.82h0M466.75,589.15h0M468.83,589.93h0M470.9,589.14h0M472.98,587.28h0M475.06,589.81h0M477.14,589.11h0M479.21,589.21h0M481.29,589.18h0M483.37,589.41h0M485.44,588.89h0M487.52,589.32h0M489.6,589.25h0M491.68,589.36h0M493.75,589.73h0M495.83,589.22h0M497.91,588.28h0M499.98,588.92h0M502.06,588.9h0M504.14,589.71h0M506.22,589.25h0M508.29,589.36h0M510.37,589.4h0M512.45,589.63h0M514.52,589.45h0M516.6,589.82h0M518.68,589.55h0M520.76,589.04h0M522.83,589.45h0M524.91,589.03h0M526.99,589.43h0M529.06,588.79h0M531.14,589.27h0M533.22,589.93h0" stroke="#ff7f0e" stroke-width="3.24" stroke-linecap="round" fill="none"/>
<polyline points="327.58,479.87 329.66,469.85 331.74,473.85 333.81,465.84 335.89,465.84 337.97,483.88 340.04,463.16 342.12,467.17 344.2,479.87 346.28,473.85 348.35,483.21 350.43,472.52 352.51,489.22 354.58,472.52 356.66,467.17 358.74,469.85 360.82,469.85 362.89,465.84 364.97,472.52 367.05,483.21 369.12,465.84 371.2,495.24 373.28,478.53 375.36,461.83 377.43,465.84 379.51,457.82 381.59,469.85 383.66,488.55 385.74,465.84 387.82,480.54 389.9,465.84 391.97,483.21 394.05,493.9 396.13,473.85 398.2,483.21 400.28,469.85 402.36,475.19 404.44,472.52 406.51,463.16 408.59,469.85 410.67,463.16 412.74,476.53 414.82,491.23 416.9,463.16 418.98,475.19 421.05,465.84 423.13,496.57 425.21,500.58 427.28,505.93 429.36,472.52 431.44,467.17 433.52,492.56 435.59,465.84 437.67,465.84 439.75,496.57 441.82,463.16 443.9,472.52 445.98,463.16 448.06,467.17 450.13,463.16 452.21,473.85 454.29,463.16 456.36,472.52 458.44,465.84 460.52,469.85 462.6,479.2 464.67,467.17 466.75,497.91 468.83,469.85 470.9,465.84 472.98,486.55 475.06,469.85 477.14,472.52 479.21,483.21 481.29,465.84 483.37,469.85 485.44,465.84 487.52,485.88 489.6,465.84 491.68,469.85 493.75,465.84 495.83,477.86 497.91,465.84 499.98,469.85 502.06,473.85 504.14,469.85 506.22,479.2 508.29,485.88 510.37,503.25 512.45,465.84 514.52,479.2 516.6,465.84 518.68,479.2 520.76,496.57 522.83,463.16 524.91,465.84 526.99,472.52 529.06,493.9 531.14,469.85 533.22,472.52" fill="none" stroke="#29a32d" stroke-width="1.33" stroke-linejoin="round"/>
<path d="M327.58,479.87h0M329.66,469.85h0M331.74,473.85h0M333.81,465.84h0M335.89,465.84h0M337.97,483.88h0M340.04,463.16h0M342.12,467.17h0M344.2,479.87h0M346.28,473.85h0M348.35,483.21h0M350.43,472.52h0M352.51,489.22h0M354.58,472.52h0M356.66,467.17h0M358.74,469.85h0M360.82,469.85h0M362.89,465.84h0M364.97,472.52h0M367.05,483.21h0M369.12,465.84h0M371.2,495.24h0M373.28,478.53h0M375.36,461.83h0M377.43,465.84h0M379.51,457.82h0M381.59,469.85h0M383.66,488.55h0M385.74,465.84h0M387.82,480.54h0M389.9,465.84h0M391.97,483.21h0M394.05,493.9h0M396.13,473.85h0M398.2,483.21h0M400.28,469.85h0M402.36,475.19h0M404.44,472.52h0M406.51,463.16h0M408.59,469.85h0M410.67,463.16h0M412.74,476.53h0M414.82,491.23h0M416.9,463.16h0M418.98,475.19h0M421.05,465.84h0M423.13,496.57h0M425.21,500.58h0M427.28,505.93h0M429.36,472.52h0M431.44,467.17h0M433.52,492.56h0M435.59,465.84h0M437.67,465.84h0M439.75,496.57h0M441.82,463.16h0M443.9,472.52h0M445.98,463.16h0M448.06,467.17h0M450.13,463.16h0M452.21,473.85h0M454.29,463.16h0M456.36,472.52h0M458.44,465.84h0M460.52,469.85h0M462.6,479.2h0M464.67,467.17h0M466.75,497.91h0M468.83,469.85h0M470.9,465.84h0M472.98,486.55h0M475.06,469.85h0M477.14,472.52h0M479.21,483.21h0M481.29,465.84h0M483.37,469.85h0M485.44,465.84h0M487.52,485.88h0M489.6,465.84h0M491.68,469.85h0M493.75,465.84h0M495.83,477.86h0M497.91,465.84h0M499.98,469.85h0M502.06,473.85h0M504.14,469.85h0M506.22,479.2h0M508.29,485.88h0M510.37,503.25h0M512.45,465.84h0M514.52,479.2h0M516.6,465.84h0M518.68,479.2h0M520.76,496.57h0M522.83,463.16h0M524.91,465.84h0M526.99,472.52h0M529.06,493.9h0M531.14,469.85h0M533.22,472.52h0" stroke="#29a32d" stroke-width="3.24" stroke-linecap="round" fill="none"/>
<polyline points="327.58,515.28 329.66,505.93 331.74,517.95 333.81,505.26 335.89,505.93 337.97,523.3 340.04,509.94 342.12,504.59 344.2,511.27 346.28,505.93 348.35,514.61 350.43,502.59 352.51,512.61 354.58,500.58 356.66,503.92 358.74,505.26 360.82,500.58 362.89,502.59 364.97,524.64 367.05,515.28 369.12,505.93 371.2,515.28 373.28,516.62 375.36,509.94 377.43,504.59 379.51,533.99 381.59,505.26 383.66,516.62 385.74,512.61 387.82,503.92 389.9,515.95 391.97,511.27 394.05,509.94 396.13,503.25 398.2,515.95 400.28,525.3 402.36,505.26 404.44,523.3 406.51,517.29 408.59,501.92 410.67,507.26 412.74,515.28 414.82,509.94 416.9,503.92 418.98,501.92 421.05,499.91 423.13,514.61 425.21,514.61 427.28,515.28 429.36,523.3 431.44,505.26 433.52,515.28 435.59,509.94 437.67,505.93 439.75,521.96 441.82,509.94 443.9,505.26 445.98,508.6 448.06,505.26 450.13,531.99 452.21,523.3 454.29,523.97 456.36,531.99 458.44,523.97 460.52,502.59 462.6,512.61 464.67,508.6 466.75,514.61 468.83,500.58 470.9,500.58 472.98,517.29 475.06,509.94 477.14,510.6 479.21,498.58 481.29,504.59 483.37,509.94 485.44,525.97 487.52,514.61 489.6,505.93 491.68,520.63 493.75,504.59 495.83,512.61 497.91,504.59 499.98,508.6 502.06,525.3 504.14,500.58 506.22,514.61 508.29,516.62 510.37,510.6 512.45,509.94 514.52,516.62 516.6,501.92 518.68,499.91 520.76,510.6 522.83,533.32 524.91,507.93 526.99,527.31 529.06,515.28 531.14,517.95 533.22,503.92" fill="none" stroke="#dc2226" stroke-width="1.33" stroke-linejoin="round"/>
<path d="M327.58,515.28h0M329.66,505.93h0M331.74,517.95h0M333.81,505.26h0M335.89,505.93h0M337.97,523.3h0M340.04,509.94h0M342.12,504.59h0M344.2,511.27h0M346.28,505.93h0M348.35,514.61h0M350.43,502.59h0M352.51,512.61h0M354.58,500.58h0M356.66,503.92h0M358.74,505.26h0M360.82,500.58h0M362.89,502.59h0M364.97,524.64h0M367.05,515.28h0M369.12,505.93h0M371.2,515.28h0M373.28,516.62h0M375.36,509.94h0M377.43,504.59h0M379.51,533.99h0M381.59,505.26h0M383.66,516.62h0M385.74,512.61h0M387.82,503.92h0M389.9,515.95h0M391.97,511.27h0M394.05,509.94h0M396.13,503.25h0M398.2,515.95h0M400.28,525.3h0M402.36,505.26h0M404.44,523.3h0M406.51,517.29h0M408.59,501.92h0M410.67,507.26h0M412.74,515.28h0M414.82,509.94h0M416.9,503.92h0M418.98,501.92h0M421.05,499.91h0M423.13,514.61h0M425.21,514.61h0M427.28,515.28h0M429.36,523.3h0M431.44,505.26h0M433.52,515.28h0M435.59,509.94h0M437.67,505.93h0M439.75,521.96h0M441.82,509.94h0M443.9,505.26h0M445.98,508.6h0M448.06,505.26h0M450.13,531.99h0M452.21,523.3h0M454.29,523.97h0M456.36,531.99h0M458.44,523.97h0M460.52,502.59h0M462.6,512.61h0M464.67,508.6h0M466.75,514.61h0M468.83,500.58h0M470.9,500.58h0M472.98,517.29h0M475.06,509.94h0M477.14,510.6h0M479.21,498.58h0M481.29,504.59h0M483.37,509.94h0M485.44,525.97h0M487.52,514.61h0M489.6,505.93h0M491.68,520.63h0M493.75,504.59h0M495.83,512.61h0M497.91,504.59h0M499.98,508.6h0M502.06,525.3h0M504.14,500.58h0M506.22,514.61h0M508.29,516.62h0M510.37,510.6h0M512.45,509.94h0M514.52,516.62h0M516.6,501.92h0M518.68,499.91h0M520.76,510.6h0M522.83,533.32h0M524.91,507.93h0M526.99,527.31h0M529.06,515.28h0M531.14,517.95h0M533.22,503.92h0" stroke="#dc2226" stroke-width="3.24" stroke-linecap="round" fill="none"/>
<rect x="317.3" y="449.8" width="226.2" height="147" fill="none" stroke="#000" stroke-width="0.75"/>
<path d="M327.58,596.8v2.5M369.12,596.8v2.5M410.67,596.8v2.5M452.21,596.8v2.5M493.75,596.8v2.5M535.3,596.8v2.5M317.3,590.12h-2.5M317.3,563.39h-2.5M317.3,536.66h-2.5M317.3,509.94h-2.5M317.3,483.21h-2.5M317.3,456.48h-2.5" stroke="#000" stroke-width="0.75" fill="none"/>
<g class="tk" text-anchor="middle">
<text transform="translate(327.88 608.7) scale(0.92 1)">0</text>
<text transform="translate(369.42 608.7) scale(0.92 1)">20</text>
<text transform="translate(410.97 608.7) scale(0.92 1)">40</text>
<text transform="translate(452.51 608.7) scale(0.92 1)">60</text>
<text transform="translate(494.05 608.7) scale(0.92 1)">80</text>
<text transform="translate(535.6 608.7) scale(0.92 1)">100</text>
</g>
<g class="tk" text-anchor="end">
<text transform="translate(313 593.72) scale(0.92 1)">0.0</text>
<text transform="translate(313 566.99) scale(0.92 1)">0.2</text>
<text transform="translate(313 540.26) scale(0.92 1)">0.4</text>
<text transform="translate(313 513.54) scale(0.92 1)">0.6</text>
<text transform="translate(313 486.81) scale(0.92 1)">0.8</text>
<text transform="translate(313 460.08) scale(0.92 1)">1.0</text>
</g>
<text class="ti" text-anchor="middle" transform="translate(430.5 445.9) scale(0.92 1)">Random network 6</text>
<text class="la" text-anchor="middle" transform="translate(430.4 620.3) scale(0.92 1)">Nodes</text>
<rect x="321.8" y="534.3" width="52.0" height="58.0" rx="1.8" fill="#fff" fill-opacity="0.8" stroke="#ccc" stroke-opacity="0.8" stroke-width="0.75"/>
<path d="M325.7,541.5h19" stroke="#1c76ba" stroke-width="1.33" stroke-linecap="square" fill="none"/>
<circle cx="335.2" cy="541.5" r="1.62" fill="#1c76ba"/>
<text class="lg" x="352.2" y="544.8">RD</text>
<path d="M325.7,555.3h19" stroke="#ff7f0e" stroke-width="1.33" stroke-linecap="square" fill="none"/>
<circle cx="335.2" cy="555.3" r="1.62" fill="#ff7f0e"/>
<text class="lg" x="352.2" y="558.6">BC</text>
<path d="M325.7,569.1h19" stroke="#29a32d" stroke-width="1.33" stroke-linecap="square" fill="none"/>
<circle cx="335.2" cy="569.1" r="1.62" fill="#29a32d"/>
<text class="lg" x="352.2" y="572.4">CC<tspan class="sb" dx="0.4" dy="1.7">1</tspan></text>
<path d="M325.7,582.9h19" stroke="#dc2226" stroke-width="1.33" stroke-linecap="square" fill="none"/>
<circle cx="335.2" cy="582.9" r="1.62" fill="#dc2226"/>
<text class="lg" x="352.2" y="586.2">CC<tspan class="sb" dx="0.4" dy="1.7">2</tspan></text>
</g>
<g>
<polyline points="31.59,683.78 33.67,677.76 35.75,681.77 37.83,680.44 39.91,674.42 41.99,680.44 44.06,676.43 46.14,674.42 48.22,700.48 50.3,680.44 52.38,674.42 54.46,684.45 56.54,674.42 58.62,684.45 60.7,674.42 62.78,684.45 64.85,680.44 66.93,674.42 69.01,674.42 71.09,680.44 73.17,684.45 75.25,674.42 77.33,677.76 79.41,674.42 81.49,680.44 83.57,680.44 85.64,684.45 87.72,680.44 89.8,674.42 91.88,680.44 93.96,677.76 96.04,684.45 98.12,688.45 100.2,733.22 102.28,677.76 104.35,733.89 106.43,684.45 108.51,675.09 110.59,680.44 112.67,681.77 114.75,684.45 116.83,684.45 118.91,671.08 120.99,675.09 123.07,687.12 125.14,688.45 127.22,684.45 129.3,733.22 131.38,684.45 133.46,677.76 135.54,676.43 137.62,677.76 139.7,674.42 141.78,674.42 143.86,677.76 145.93,684.45 148.01,684.45 150.09,684.45 152.17,677.76 154.25,677.76 156.33,680.44 158.41,684.45 160.49,687.12 162.57,684.45 164.65,677.76 166.72,684.45 168.8,675.09 170.88,675.09 172.96,684.45 175.04,677.76 177.12,677.76 179.2,675.09 181.28,680.44 183.36,680.44 185.43,677.76 187.51,671.08 189.59,677.76 191.67,675.09 193.75,677.76 195.83,675.09 197.91,675.09 199.99,687.12 202.07,675.09 204.15,680.44 206.22,684.45 208.3,688.45 210.38,733.22 212.46,684.45 214.54,677.76 216.62,675.09 218.7,675.09 220.78,680.44 222.86,671.08 224.94,677.76 227.01,680.44 229.09,677.76 231.17,680.44 233.25,680.44 235.33,671.08 237.41,735.23" fill="none" stroke="#1c76ba" stroke-width="1.33" stroke-linejoin="round"/>
<path d="M31.59,683.78h0M33.67,677.76h0M35.75,681.77h0M37.83,680.44h0M39.91,674.42h0M41.99,680.44h0M44.06,676.43h0M46.14,674.42h0M48.22,700.48h0M50.3,680.44h0M52.38,674.42h0M54.46,684.45h0M56.54,674.42h0M58.62,684.45h0M60.7,674.42h0M62.78,684.45h0M64.85,680.44h0M66.93,674.42h0M69.01,674.42h0M71.09,680.44h0M73.17,684.45h0M75.25,674.42h0M77.33,677.76h0M79.41,674.42h0M81.49,680.44h0M83.57,680.44h0M85.64,684.45h0M87.72,680.44h0M89.8,674.42h0M91.88,680.44h0M93.96,677.76h0M96.04,684.45h0M98.12,688.45h0M100.2,733.22h0M102.28,677.76h0M104.35,733.89h0M106.43,684.45h0M108.51,675.09h0M110.59,680.44h0M112.67,681.77h0M114.75,684.45h0M116.83,684.45h0M118.91,671.08h0M120.99,675.09h0M123.07,687.12h0M125.14,688.45h0M127.22,684.45h0M129.3,733.22h0M131.38,684.45h0M133.46,677.76h0M135.54,676.43h0M137.62,677.76h0M139.7,674.42h0M141.78,674.42h0M143.86,677.76h0M145.93,684.45h0M148.01,684.45h0M150.09,684.45h0M152.17,677.76h0M154.25,677.76h0M156.33,680.44h0M158.41,684.45h0M160.49,687.12h0M162.57,684.45h0M164.65,677.76h0M166.72,684.45h0M168.8,675.09h0M170.88,675.09h0M172.96,684.45h0M175.04,677.76h0M177.12,677.76h0M179.2,675.09h0M181.28,680.44h0M183.36,680.44h0M185.43,677.76h0M187.51,671.08h0M189.59,677.76h0M191.67,675.09h0M193.75,677.76h0M195.83,675.09h0M197.91,675.09h0M199.99,687.12h0M202.07,675.09h0M204.15,680.44h0M206.22,684.45h0M208.3,688.45h0M210.38,733.22h0M212.46,684.45h0M214.54,677.76h0M216.62,675.09h0M218.7,675.09h0M220.78,680.44h0M222.86,671.08h0M224.94,677.76h0M227.01,680.44h0M229.09,677.76h0M231.17,680.44h0M233.25,680.44h0M235.33,671.08h0M237.41,735.23h0" stroke="#1c76ba" stroke-width="3.24" stroke-linecap="round" fill="none"/>
<polyline points="31.59,803.99 33.67,803.82 35.75,804.02 37.83,804.48 39.91,802.72 41.99,803.59 44.06,804.2 46.14,803.42 48.22,803.86 50.3,803.82 52.38,803.43 54.46,803.59 56.54,803.81 58.62,804.31 60.7,803.47 62.78,804.46 64.85,804.26 66.93,804.03 69.01,804.33 71.09,804.09 73.17,803.75 75.25,803.56 77.33,803.42 79.41,803.52 81.49,803.6 83.57,803.9 85.64,804.47 87.72,803.15 89.8,803.88 91.88,803.41 93.96,803.59 96.04,804.31 98.12,804.47 100.2,804.13 102.28,804.54 104.35,802.24 106.43,803.47 108.51,804.03 110.59,803.6 112.67,804.1 114.75,802.14 116.83,802.51 118.91,804.17 120.99,803.96 123.07,804.22 125.14,803.47 127.22,804.48 129.3,804.52 131.38,804.21 133.46,801.83 135.54,804.29 137.62,803.39 139.7,804.55 141.78,804.06 143.86,802.54 145.93,803.59 148.01,802.47 150.09,803.6 152.17,804.43 154.25,803.56 156.33,804.28 158.41,804.44 160.49,804.55 162.57,804 164.65,804.23 166.72,804.29 168.8,803.58 170.88,803.43 172.96,801.71 175.04,804.36 177.12,804.25 179.2,804.58 181.28,803.47 183.36,803.78 185.43,804 187.51,803.51 189.59,803.99 191.67,803.46 193.75,804.35 195.83,803.64 197.91,803.77 199.99,803.45 202.07,803.44 204.15,803.42 206.22,804.48 208.3,803.74 210.38,804.28 212.46,804.33 214.54,801.8 216.62,803.51 218.7,802.43 220.78,803.87 222.86,804.44 224.94,804.29 227.01,803.75 229.09,803.55 231.17,804.44 233.25,803.79 235.33,804.01 237.41,804.22" fill="none" stroke="#ff7f0e" stroke-width="1.33" stroke-linejoin="round"/>
<path d="M31.59,803.99h0M33.67,803.82h0M35.75,804.02h0M37.83,804.48h0M39.91,802.72h0M41.99,803.59h0M44.06,804.2h0M46.14,803.42h0M48.22,803.86h0M50.3,803.82h0M52.38,803.43h0M54.46,803.59h0M56.54,803.81h0M58.62,804.31h0M60.7,803.47h0M62.78,804.46h0M64.85,804.26h0M66.93,804.03h0M69.01,804.33h0M71.09,804.09h0M73.17,803.75h0M75.25,803.56h0M77.33,803.42h0M79.41,803.52h0M81.49,803.6h0M83.57,803.9h0M85.64,804.47h0M87.72,803.15h0M89.8,803.88h0M91.88,803.41h0M93.96,803.59h0M96.04,804.31h0M98.12,804.47h0M100.2,804.13h0M102.28,804.54h0M104.35,802.24h0M106.43,803.47h0M108.51,804.03h0M110.59,803.6h0M112.67,804.1h0M114.75,802.14h0M116.83,802.51h0M118.91,804.17h0M120.99,803.96h0M123.07,804.22h0M125.14,803.47h0M127.22,804.48h0M129.3,804.52h0M131.38,804.21h0M133.46,801.83h0M135.54,804.29h0M137.62,803.39h0M139.7,804.55h0M141.78,804.06h0M143.86,802.54h0M145.93,803.59h0M148.01,802.47h0M150.09,803.6h0M152.17,804.43h0M154.25,803.56h0M156.33,804.28h0M158.41,804.44h0M160.49,804.55h0M162.57,804h0M164.65,804.23h0M166.72,804.29h0M168.8,803.58h0M170.88,803.43h0M172.96,801.71h0M175.04,804.36h0M177.12,804.25h0M179.2,804.58h0M181.28,803.47h0M183.36,803.78h0M185.43,804h0M187.51,803.51h0M189.59,803.99h0M191.67,803.46h0M193.75,804.35h0M195.83,803.64h0M197.91,803.77h0M199.99,803.45h0M202.07,803.44h0M204.15,803.42h0M206.22,804.48h0M208.3,803.74h0M210.38,804.28h0M212.46,804.33h0M214.54,801.8h0M216.62,803.51h0M218.7,802.43h0M220.78,803.87h0M222.86,804.44h0M224.94,804.29h0M227.01,803.75h0M229.09,803.55h0M231.17,804.44h0M233.25,803.79h0M235.33,804.01h0M237.41,804.22h0" stroke="#ff7f0e" stroke-width="3.24" stroke-linecap="round" fill="none"/>
<polyline points="31.59,688.45 33.67,699.15 35.75,688.45 37.83,688.45 39.91,697.81 41.99,695.14 44.06,692.46 46.14,687.12 48.22,697.81 50.3,687.12 52.38,697.81 54.46,688.45 56.54,687.12 58.62,713.85 60.7,697.81 62.78,703.15 64.85,675.09 66.93,684.45 69.01,692.46 71.09,674.42 73.17,684.45 75.25,699.15 77.33,688.45 79.41,703.15 81.49,680.44 83.57,692.46 85.64,700.48 87.72,697.81 89.8,692.46 91.88,680.44 93.96,675.09 96.04,688.45 98.12,680.44 100.2,697.81 102.28,713.85 104.35,717.85 106.43,683.11 108.51,688.45 110.59,688.45 112.67,681.77 114.75,683.11 116.83,684.45 118.91,703.15 120.99,693.8 123.07,691.13 125.14,687.12 127.22,684.45 129.3,721.86 131.38,703.15 133.46,688.45 135.54,693.8 137.62,688.45 139.7,688.45 141.78,692.46 143.86,688.45 145.93,721.86 148.01,693.8 150.09,688.45 152.17,688.45 154.25,724.54 156.33,701.82 158.41,688.45 160.49,691.13 162.57,693.8 164.65,691.13 166.72,695.14 168.8,688.45 170.88,692.46 172.96,689.79 175.04,680.44 177.12,681.77 179.2,676.43 181.28,693.8 183.36,693.8 185.43,676.43 187.51,697.81 189.59,687.12 191.67,676.43 193.75,691.13 195.83,697.81 197.91,681.77 199.99,687.12 202.07,676.43 204.15,713.85 206.22,681.77 208.3,684.45 210.38,717.85 212.46,688.45 214.54,693.8 216.62,681.77 218.7,677.76 220.78,681.77 222.86,697.81 224.94,688.45 227.01,692.46 229.09,676.43 231.17,681.77 233.25,681.77 235.33,704.49 237.41,711.84" fill="none" stroke="#29a32d" stroke-width="1.33" stroke-linejoin="round"/>
<path d="M31.59,688.45h0M33.67,699.15h0M35.75,688.45h0M37.83,688.45h0M39.91,697.81h0M41.99,695.14h0M44.06,692.46h0M46.14,687.12h0M48.22,697.81h0M50.3,687.12h0M52.38,697.81h0M54.46,688.45h0M56.54,687.12h0M58.62,713.85h0M60.7,697.81h0M62.78,703.15h0M64.85,675.09h0M66.93,684.45h0M69.01,692.46h0M71.09,674.42h0M73.17,684.45h0M75.25,699.15h0M77.33,688.45h0M79.41,703.15h0M81.49,680.44h0M83.57,692.46h0M85.64,700.48h0M87.72,697.81h0M89.8,692.46h0M91.88,680.44h0M93.96,675.09h0M96.04,688.45h0M98.12,680.44h0M100.2,697.81h0M102.28,713.85h0M104.35,717.85h0M106.43,683.11h0M108.51,688.45h0M110.59,688.45h0M112.67,681.77h0M114.75,683.11h0M116.83,684.45h0M118.91,703.15h0M120.99,693.8h0M123.07,691.13h0M125.14,687.12h0M127.22,684.45h0M129.3,721.86h0M131.38,703.15h0M133.46,688.45h0M135.54,693.8h0M137.62,688.45h0M139.7,688.45h0M141.78,692.46h0M143.86,688.45h0M145.93,721.86h0M148.01,693.8h0M150.09,688.45h0M152.17,688.45h0M154.25,724.54h0M156.33,701.82h0M158.41,688.45h0M160.49,691.13h0M162.57,693.8h0M164.65,691.13h0M166.72,695.14h0M168.8,688.45h0M170.88,692.46h0M172.96,689.79h0M175.04,680.44h0M177.12,681.77h0M179.2,676.43h0M181.28,693.8h0M183.36,693.8h0M185.43,676.43h0M187.51,697.81h0M189.59,687.12h0M191.67,676.43h0M193.75,691.13h0M195.83,697.81h0M197.91,681.77h0M199.99,687.12h0M202.07,676.43h0M204.15,713.85h0M206.22,681.77h0M208.3,684.45h0M210.38,717.85h0M212.46,688.45h0M214.54,693.8h0M216.62,681.77h0M218.7,677.76h0M220.78,681.77h0M222.86,697.81h0M224.94,688.45h0M227.01,692.46h0M229.09,676.43h0M231.17,681.77h0M233.25,681.77h0M235.33,704.49h0M237.41,711.84h0" stroke="#29a32d" stroke-width="3.24" stroke-linecap="round" fill="none"/>
<polyline points="31.59,721.86 33.67,721.2 35.75,723.2 37.83,724.54 39.91,721.86 41.99,725.2 44.06,725.2 46.14,724.54 48.22,740.57 50.3,722.53 52.38,719.86 54.46,722.53 56.54,726.54 58.62,731.22 60.7,720.53 62.78,730.55 64.85,731.89 66.93,720.53 69.01,719.86 71.09,723.2 73.17,728.55 75.25,719.86 77.33,720.53 79.41,719.86 81.49,725.87 83.57,727.88 85.64,725.2 87.72,730.55 89.8,720.53 91.88,721.86 93.96,726.54 96.04,731.22 98.12,744.58 100.2,737.9 102.28,729.88 104.35,728.55 106.43,726.54 108.51,724.54 110.59,722.53 112.67,722.53 114.75,725.87 116.83,725.87 118.91,719.19 120.99,724.54 123.07,737.9 125.14,723.87 127.22,724.54 129.3,727.88 131.38,737.9 133.46,722.53 135.54,725.87 137.62,720.53 139.7,723.87 141.78,722.53 143.86,721.86 145.93,730.55 148.01,721.2 150.09,721.2 152.17,720.53 154.25,737.9 156.33,738.57 158.41,723.2 160.49,739.9 162.57,723.87 164.65,738.57 166.72,720.53 168.8,719.86 170.88,721.86 172.96,725.2 175.04,726.54 177.12,726.54 179.2,729.88 181.28,719.86 183.36,721.2 185.43,730.55 187.51,719.19 189.59,724.54 191.67,729.21 193.75,739.9 195.83,721.2 197.91,725.2 199.99,727.21 202.07,730.55 204.15,730.55 206.22,725.87 208.3,727.88 210.38,729.21 212.46,721.86 214.54,720.53 216.62,725.87 218.7,731.22 220.78,724.54 222.86,719.19 224.94,721.86 227.01,723.2 229.09,731.22 231.17,722.53 233.25,723.2 235.33,719.19 237.41,729.88" fill="none" stroke="#dc2226" stroke-width="1.33" stroke-linejoin="round"/>
<path d="M31.59,721.86h0M33.67,721.2h0M35.75,723.2h0M37.83,724.54h0M39.91,721.86h0M41.99,725.2h0M44.06,725.2h0M46.14,724.54h0M48.22,740.57h0M50.3,722.53h0M52.38,719.86h0M54.46,722.53h0M56.54,726.54h0M58.62,731.22h0M60.7,720.53h0M62.78,730.55h0M64.85,731.89h0M66.93,720.53h0M69.01,719.86h0M71.09,723.2h0M73.17,728.55h0M75.25,719.86h0M77.33,720.53h0M79.41,719.86h0M81.49,725.87h0M83.57,727.88h0M85.64,725.2h0M87.72,730.55h0M89.8,720.53h0M91.88,721.86h0M93.96,726.54h0M96.04,731.22h0M98.12,744.58h0M100.2,737.9h0M102.28,729.88h0M104.35,728.55h0M106.43,726.54h0M108.51,724.54h0M110.59,722.53h0M112.67,722.53h0M114.75,725.87h0M116.83,725.87h0M118.91,719.19h0M120.99,724.54h0M123.07,737.9h0M125.14,723.87h0M127.22,724.54h0M129.3,727.88h0M131.38,737.9h0M133.46,722.53h0M135.54,725.87h0M137.62,720.53h0M139.7,723.87h0M141.78,722.53h0M143.86,721.86h0M145.93,730.55h0M148.01,721.2h0M150.09,721.2h0M152.17,720.53h0M154.25,737.9h0M156.33,738.57h0M158.41,723.2h0M160.49,739.9h0M162.57,723.87h0M164.65,738.57h0M166.72,720.53h0M168.8,719.86h0M170.88,721.86h0M172.96,725.2h0M175.04,726.54h0M177.12,726.54h0M179.2,729.88h0M181.28,719.86h0M183.36,721.2h0M185.43,730.55h0M187.51,719.19h0M189.59,724.54h0M191.67,729.21h0M193.75,739.9h0M195.83,721.2h0M197.91,725.2h0M199.99,727.21h0M202.07,730.55h0M204.15,730.55h0M206.22,725.87h0M208.3,727.88h0M210.38,729.21h0M212.46,721.86h0M214.54,720.53h0M216.62,725.87h0M218.7,731.22h0M220.78,724.54h0M222.86,719.19h0M224.94,721.86h0M227.01,723.2h0M229.09,731.22h0M231.17,722.53h0M233.25,723.2h0M235.33,719.19h0M237.41,729.88h0" stroke="#dc2226" stroke-width="3.24" stroke-linecap="round" fill="none"/>
<rect x="21.3" y="664.4" width="226.4" height="147" fill="none" stroke="#000" stroke-width="0.75"/>
<path d="M31.59,811.4v2.5M73.17,811.4v2.5M114.75,811.4v2.5M156.33,811.4v2.5M197.91,811.4v2.5M239.49,811.4v2.5M21.3,804.72h-2.5M21.3,777.99h-2.5M21.3,751.26h-2.5M21.3,724.54h-2.5M21.3,697.81h-2.5M21.3,671.08h-2.5" stroke="#000" stroke-width="0.75" fill="none"/>
<g class="tk" text-anchor="middle">
<text transform="translate(31.89 823.3) scale(0.92 1)">0</text>
<text transform="translate(73.47 823.3) scale(0.92 1)">20</text>
<text transform="translate(115.05 823.3) scale(0.92 1)">40</text>
<text transform="translate(156.63 823.3) scale(0.92 1)">60</text>
<text transform="translate(198.21 823.3) scale(0.92 1)">80</text>
<text transform="translate(239.79 823.3) scale(0.92 1)">100</text>
</g>
<g class="tk" text-anchor="end">
<text transform="translate(17 808.32) scale(0.92 1)">0.0</text>
<text transform="translate(17 781.59) scale(0.92 1)">0.2</text>
<text transform="translate(17 754.86) scale(0.92 1)">0.4</text>
<text transform="translate(17 728.14) scale(0.92 1)">0.6</text>
<text transform="translate(17 701.41) scale(0.92 1)">0.8</text>
<text transform="translate(17 674.68) scale(0.92 1)">1.0</text>
</g>
<text class="ti" text-anchor="middle" transform="translate(134.6 660.5) scale(0.92 1)">Random network 7</text>
<text class="la" text-anchor="middle" transform="translate(134.5 834.9) scale(0.92 1)">Nodes</text>
<rect x="25.8" y="748.9" width="52.0" height="58.0" rx="1.8" fill="#fff" fill-opacity="0.8" stroke="#ccc" stroke-opacity="0.8" stroke-width="0.75"/>
<path d="M29.7,756.1h19" stroke="#1c76ba" stroke-width="1.33" stroke-linecap="square" fill="none"/>
<circle cx="39.2" cy="756.1" r="1.62" fill="#1c76ba"/>
<text class="lg" x="56.2" y="759.4">RD</text>
<path d="M29.7,769.9h19" stroke="#ff7f0e" stroke-width="1.33" stroke-linecap="square" fill="none"/>
<circle cx="39.2" cy="769.9" r="1.62" fill="#ff7f0e"/>
<text class="lg" x="56.2" y="773.2">BC</text>
<path d="M29.7,783.7h19" stroke="#29a32d" stroke-width="1.33" stroke-linecap="square" fill="none"/>
<circle cx="39.2" cy="783.7" r="1.62" fill="#29a32d"/>
<text class="lg" x="56.2" y="787">CC<tspan class="sb" dx="0.4" dy="1.7">1</tspan></text>
<path d="M29.7,797.5h19" stroke="#dc2226" stroke-width="1.33" stroke-linecap="square" fill="none"/>
<circle cx="39.2" cy="797.5" r="1.62" fill="#dc2226"/>
<text class="lg" x="56.2" y="800.8">CC<tspan class="sb" dx="0.4" dy="1.7">2</tspan></text>
</g>
<g>
<polyline points="327.58,675.76 329.66,680.44 331.74,700.48 333.81,697.81 335.89,689.79 337.97,675.76 340.04,680.44 342.12,675.09 344.2,675.09 346.28,675.09 348.35,675.09 350.43,674.42 352.51,675.09 354.58,680.44 356.66,675.76 358.74,675.76 360.82,675.76 362.89,680.44 364.97,680.44 367.05,674.42 369.12,680.44 371.2,680.44 373.28,680.44 375.36,680.44 377.43,704.49 379.51,677.76 381.59,680.44 383.66,693.8 385.74,677.76 387.82,707.16 389.9,675.09 391.97,677.76 394.05,677.76 396.13,676.43 398.2,675.09 400.28,680.44 402.36,675.09 404.44,691.13 406.51,676.43 408.59,677.76 410.67,675.09 412.74,680.44 414.82,680.44 416.9,680.44 418.98,677.76 421.05,680.44 423.13,704.49 425.21,676.43 427.28,680.44 429.36,680.44 431.44,676.43 433.52,680.44 435.59,681.77 437.67,675.09 439.75,675.09 441.82,671.08 443.9,680.44 445.98,680.44 448.06,676.43 450.13,680.44 452.21,676.43 454.29,684.45 456.36,676.43 458.44,677.76 460.52,684.45 462.6,675.09 464.67,680.44 466.75,706.5 468.83,675.09 470.9,680.44 472.98,675.09 475.06,677.76 477.14,709.84 479.21,677.76 481.29,675.09 483.37,677.76 485.44,680.44 487.52,675.09 489.6,675.09 491.68,680.44 493.75,675.09 495.83,675.09 497.91,680.44 499.98,703.82 502.06,677.76 504.14,680.44 506.22,705.16 508.29,677.76 510.37,680.44 512.45,706.5 514.52,680.44 516.6,676.43 518.68,684.45 520.76,681.77 522.83,677.76 524.91,680.44 526.99,707.83 529.06,675.09 531.14,677.76 533.22,675.09" fill="none" stroke="#1c76ba" stroke-width="1.33" stroke-linejoin="round"/>
<path d="M327.58,675.76h0M329.66,680.44h0M331.74,700.48h0M333.81,697.81h0M335.89,689.79h0M337.97,675.76h0M340.04,680.44h0M342.12,675.09h0M344.2,675.09h0M346.28,675.09h0M348.35,675.09h0M350.43,674.42h0M352.51,675.09h0M354.58,680.44h0M356.66,675.76h0M358.74,675.76h0M360.82,675.76h0M362.89,680.44h0M364.97,680.44h0M367.05,674.42h0M369.12,680.44h0M371.2,680.44h0M373.28,680.44h0M375.36,680.44h0M377.43,704.49h0M379.51,677.76h0M381.59,680.44h0M383.66,693.8h0M385.74,677.76h0M387.82,707.16h0M389.9,675.09h0M391.97,677.76h0M394.05,677.76h0M396.13,676.43h0M398.2,675.09h0M400.28,680.44h0M402.36,675.09h0M404.44,691.13h0M406.51,676.43h0M408.59,677.76h0M410.67,675.09h0M412.74,680.44h0M414.82,680.44h0M416.9,680.44h0M418.98,677.76h0M421.05,680.44h0M423.13,704.49h0M425.21,676.43h0M427.28,680.44h0M429.36,680.44h0M431.44,676.43h0M433.52,680.44h0M435.59,681.77h0M437.67,675.09h0M439.75,675.09h0M441.82,671.08h0M443.9,680.44h0M445.98,680.44h0M448.06,676.43h0M450.13,680.44h0M452.21,676.43h0M454.29,684.45h0M456.36,676.43h0M458.44,677.76h0M460.52,684.45h0M462.6,675.09h0M464.67,680.44h0M466.75,706.5h0M468.83,675.09h0M470.9,680.44h0M472.98,675.09h0M475.06,677.76h0M477.14,709.84h0M479.21,677.76h0M481.29,675.09h0M483.37,677.76h0M485.44,680.44h0M487.52,675.09h0M489.6,675.09h0M491.68,680.44h0M493.75,675.09h0M495.83,675.09h0M497.91,680.44h0M499.98,703.82h0M502.06,677.76h0M504.14,680.44h0M506.22,705.16h0M508.29,677.76h0M510.37,680.44h0M512.45,706.5h0M514.52,680.44h0M516.6,676.43h0M518.68,684.45h0M520.76,681.77h0M522.83,677.76h0M524.91,680.44h0M526.99,707.83h0M529.06,675.09h0M531.14,677.76h0M533.22,675.09h0" stroke="#1c76ba" stroke-width="3.24" stroke-linecap="round" fill="none"/>
<polyline points="327.58,804.53 329.66,804.56 331.74,803.41 333.81,803.41 335.89,801.54 337.97,803.96 340.04,804.13 342.12,803.8 344.2,803.76 346.28,803.61 348.35,803.9 350.43,803.92 352.51,803.88 354.58,803.67 356.66,804.15 358.74,804.32 360.82,803.56 362.89,804.32 364.97,803.82 367.05,802.1 369.12,802.41 371.2,803.9 373.28,803.39 375.36,804.14 377.43,804.27 379.51,802.5 381.59,804.25 383.66,804.27 385.74,804.41 387.82,803.72 389.9,804.53 391.97,803.78 394.05,804.29 396.13,804.53 398.2,804.56 400.28,803.72 402.36,803.49 404.44,804.05 406.51,804.13 408.59,804.08 410.67,804.09 412.74,804.42 414.82,803.41 416.9,804.41 418.98,803.68 421.05,803.54 423.13,803.89 425.21,804.27 427.28,804.16 429.36,804.11 431.44,804.36 433.52,804.14 435.59,804.08 437.67,803.43 439.75,803.96 441.82,804.49 443.9,804.57 445.98,802.15 448.06,803.52 450.13,803.74 452.21,802.97 454.29,803.67 456.36,803.59 458.44,802.61 460.52,804.53 462.6,804.21 464.67,803.68 466.75,803.96 468.83,804.37 470.9,804.53 472.98,804.4 475.06,804.56 477.14,804.36 479.21,804.44 481.29,803.62 483.37,803.94 485.44,803.75 487.52,803.53 489.6,804.44 491.68,804.36 493.75,803.83 495.83,804.42 497.91,804.29 499.98,803.82 502.06,804.32 504.14,804.37 506.22,803.53 508.29,803.76 510.37,804.32 512.45,804.24 514.52,803.95 516.6,804.12 518.68,804.23 520.76,802.74 522.83,804.28 524.91,804.19 526.99,804.27 529.06,803.4 531.14,804.41 533.22,803.55" fill="none" stroke="#ff7f0e" stroke-width="1.33" stroke-linejoin="round"/>
<path d="M327.58,804.53h0M329.66,804.56h0M331.74,803.41h0M333.81,803.41h0M335.89,801.54h0M337.97,803.96h0M340.04,804.13h0M342.12,803.8h0M344.2,803.76h0M346.28,803.61h0M348.35,803.9h0M350.43,803.92h0M352.51,803.88h0M354.58,803.67h0M356.66,804.15h0M358.74,804.32h0M360.82,803.56h0M362.89,804.32h0M364.97,803.82h0M367.05,802.1h0M369.12,802.41h0M371.2,803.9h0M373.28,803.39h0M375.36,804.14h0M377.43,804.27h0M379.51,802.5h0M381.59,804.25h0M383.66,804.27h0M385.74,804.41h0M387.82,803.72h0M389.9,804.53h0M391.97,803.78h0M394.05,804.29h0M396.13,804.53h0M398.2,804.56h0M400.28,803.72h0M402.36,803.49h0M404.44,804.05h0M406.51,804.13h0M408.59,804.08h0M410.67,804.09h0M412.74,804.42h0M414.82,803.41h0M416.9,804.41h0M418.98,803.68h0M421.05,803.54h0M423.13,803.89h0M425.21,804.27h0M427.28,804.16h0M429.36,804.11h0M431.44,804.36h0M433.52,804.14h0M435.59,804.08h0M437.67,803.43h0M439.75,803.96h0M441.82,804.49h0M443.9,804.57h0M445.98,802.15h0M448.06,803.52h0M450.13,803.74h0M452.21,802.97h0M454.29,803.67h0M456.36,803.59h0M458.44,802.61h0M460.52,804.53h0M462.6,804.21h0M464.67,803.68h0M466.75,803.96h0M468.83,804.37h0M470.9,804.53h0M472.98,804.4h0M475.06,804.56h0M477.14,804.36h0M479.21,804.44h0M481.29,803.62h0M483.37,803.94h0M485.44,803.75h0M487.52,803.53h0M489.6,804.44h0M491.68,804.36h0M493.75,803.83h0M495.83,804.42h0M497.91,804.29h0M499.98,803.82h0M502.06,804.32h0M504.14,804.37h0M506.22,803.53h0M508.29,803.76h0M510.37,804.32h0M512.45,804.24h0M514.52,803.95h0M516.6,804.12h0M518.68,804.23h0M520.76,802.74h0M522.83,804.28h0M524.91,804.19h0M526.99,804.27h0M529.06,803.4h0M531.14,804.41h0M533.22,803.55h0" stroke="#ff7f0e" stroke-width="3.24" stroke-linecap="round" fill="none"/>
<polyline points="327.58,683.78 329.66,681.77 331.74,705.83 333.81,709.84 335.89,699.15 337.97,707.16 340.04,684.45 342.12,699.15 344.2,691.13 346.28,699.15 348.35,707.16 350.43,681.77 352.51,681.77 354.58,687.12 356.66,687.12 358.74,700.48 360.82,699.15 362.89,703.15 364.97,681.77 367.05,711.17 369.12,693.8 371.2,687.12 373.28,697.81 375.36,697.81 377.43,700.48 379.51,680.44 381.59,684.45 383.66,708.5 385.74,680.44 387.82,700.48 389.9,677.76 391.97,684.45 394.05,707.83 396.13,689.79 398.2,693.8 400.28,703.82 402.36,697.81 404.44,712.51 406.51,691.13 408.59,688.45 410.67,684.45 412.74,692.46 414.82,684.45 416.9,720.53 418.98,681.77 421.05,684.45 423.13,709.17 425.21,699.15 427.28,688.45 429.36,688.45 431.44,676.43 433.52,681.77 435.59,715.18 437.67,691.8 439.75,691.13 441.82,705.83 443.9,684.45 445.98,693.8 448.06,699.81 450.13,681.77 452.21,687.12 454.29,684.45 456.36,691.13 458.44,680.44 460.52,693.8 462.6,684.45 464.67,687.12 466.75,697.81 468.83,684.45 470.9,709.17 472.98,688.45 475.06,681.77 477.14,704.49 479.21,681.77 481.29,677.76 483.37,693.8 485.44,691.13 487.52,687.12 489.6,680.44 491.68,687.12 493.75,706.5 495.83,691.13 497.91,681.77 499.98,697.81 502.06,684.45 504.14,693.8 506.22,701.15 508.29,684.45 510.37,677.76 512.45,697.81 514.52,681.77 516.6,692.46 518.68,697.81 520.76,693.8 522.83,691.13 524.91,681.77 526.99,697.81 529.06,677.76 531.14,685.78 533.22,687.79" fill="none" stroke="#29a32d" stroke-width="1.33" stroke-linejoin="round"/>
<path d="M327.58,683.78h0M329.66,681.77h0M331.74,705.83h0M333.81,709.84h0M335.89,699.15h0M337.97,707.16h0M340.04,684.45h0M342.12,699.15h0M344.2,691.13h0M346.28,699.15h0M348.35,707.16h0M350.43,681.77h0M352.51,681.77h0M354.58,687.12h0M356.66,687.12h0M358.74,700.48h0M360.82,699.15h0M362.89,703.15h0M364.97,681.77h0M367.05,711.17h0M369.12,693.8h0M371.2,687.12h0M373.28,697.81h0M375.36,697.81h0M377.43,700.48h0M379.51,680.44h0M381.59,684.45h0M383.66,708.5h0M385.74,680.44h0M387.82,700.48h0M389.9,677.76h0M391.97,684.45h0M394.05,707.83h0M396.13,689.79h0M398.2,693.8h0M400.28,703.82h0M402.36,697.81h0M404.44,712.51h0M406.51,691.13h0M408.59,688.45h0M410.67,684.45h0M412.74,692.46h0M414.82,684.45h0M416.9,720.53h0M418.98,681.77h0M421.05,684.45h0M423.13,709.17h0M425.21,699.15h0M427.28,688.45h0M429.36,688.45h0M431.44,676.43h0M433.52,681.77h0M435.59,715.18h0M437.67,691.8h0M439.75,691.13h0M441.82,705.83h0M443.9,684.45h0M445.98,693.8h0M448.06,699.81h0M450.13,681.77h0M452.21,687.12h0M454.29,684.45h0M456.36,691.13h0M458.44,680.44h0M460.52,693.8h0M462.6,684.45h0M464.67,687.12h0M466.75,697.81h0M468.83,684.45h0M470.9,709.17h0M472.98,688.45h0M475.06,681.77h0M477.14,704.49h0M479.21,681.77h0M481.29,677.76h0M483.37,693.8h0M485.44,691.13h0M487.52,687.12h0M489.6,680.44h0M491.68,687.12h0M493.75,706.5h0M495.83,691.13h0M497.91,681.77h0M499.98,697.81h0M502.06,684.45h0M504.14,693.8h0M506.22,701.15h0M508.29,684.45h0M510.37,677.76h0M512.45,697.81h0M514.52,681.77h0M516.6,692.46h0M518.68,697.81h0M520.76,693.8h0M522.83,691.13h0M524.91,681.77h0M526.99,697.81h0M529.06,677.76h0M531.14,685.78h0M533.22,687.79h0" stroke="#29a32d" stroke-width="3.24" stroke-linecap="round" fill="none"/>
<polyline points="327.58,731.89 329.66,725.87 331.74,725.2 333.81,724.54 335.89,725.87 337.97,726.54 340.04,727.88 342.12,721.2 344.2,726.54 346.28,721.2 348.35,724.54 350.43,723.87 352.51,723.2 354.58,732.55 356.66,732.55 358.74,725.87 360.82,725.87 362.89,721.2 364.97,727.88 367.05,718.52 369.12,725.87 371.2,732.55 373.28,720.53 375.36,719.86 377.43,726.54 379.51,727.21 381.59,726.54 383.66,724.54 385.74,732.55 387.82,731.22 389.9,729.21 391.97,725.87 394.05,719.19 396.13,724.54 398.2,730.55 400.28,719.86 402.36,720.53 404.44,723.87 406.51,725.87 408.59,726.54 410.67,734.56 412.74,731.22 414.82,733.89 416.9,723.2 418.98,726.54 421.05,724.54 423.13,727.21 425.21,731.22 427.28,731.22 429.36,727.21 431.44,739.24 433.52,723.87 435.59,723.2 437.67,734.56 439.75,731.89 441.82,718.52 443.9,724.54 445.98,731.22 448.06,726.54 450.13,724.54 452.21,729.21 454.29,731.89 456.36,727.21 458.44,737.9 460.52,727.21 462.6,725.87 464.67,721.2 466.75,724.54 468.83,733.22 470.9,728.55 472.98,725.2 475.06,735.9 477.14,731.89 479.21,728.55 481.29,725.87 483.37,721.2 485.44,719.86 487.52,728.55 489.6,739.9 491.68,719.86 493.75,725.2 495.83,724.54 497.91,733.22 499.98,728.55 502.06,730.55 504.14,726.54 506.22,725.2 508.29,727.88 510.37,729.88 512.45,730.55 514.52,731.22 516.6,730.55 518.68,721.2 520.76,728.55 522.83,726.54 524.91,739.24 526.99,725.2 529.06,741.24 531.14,730.55 533.22,721.86" fill="none" stroke="#dc2226" stroke-width="1.33" stroke-linejoin="round"/>
<path d="M327.58,731.89h0M329.66,725.87h0M331.74,725.2h0M333.81,724.54h0M335.89,725.87h0M337.97,726.54h0M340.04,727.88h0M342.12,721.2h0M344.2,726.54h0M346.28,721.2h0M348.35,724.54h0M350.43,723.87h0M352.51,723.2h0M354.58,732.55h0M356.66,732.55h0M358.74,725.87h0M360.82,725.87h0M362.89,721.2h0M364.97,727.88h0M367.05,718.52h0M369.12,725.87h0M371.2,732.55h0M373.28,720.53h0M375.36,719.86h0M377.43,726.54h0M379.51,727.21h0M381.59,726.54h0M383.66,724.54h0M385.74,732.55h0M387.82,731.22h0M389.9,729.21h0M391.97,725.87h0M394.05,719.19h0M396.13,724.54h0M398.2,730.55h0M400.28,719.86h0M402.36,720.53h0M404.44,723.87h0M406.51,725.87h0M408.59,726.54h0M410.67,734.56h0M412.74,731.22h0M414.82,733.89h0M416.9,723.2h0M418.98,726.54h0M421.05,724.54h0M423.13,727.21h0M425.21,731.22h0M427.28,731.22h0M429.36,727.21h0M431.44,739.24h0M433.52,723.87h0M435.59,723.2h0M437.67,734.56h0M439.75,731.89h0M441.82,718.52h0M443.9,724.54h0M445.98,731.22h0M448.06,726.54h0M450.13,724.54h0M452.21,729.21h0M454.29,731.89h0M456.36,727.21h0M458.44,737.9h0M460.52,727.21h0M462.6,725.87h0M464.67,721.2h0M466.75,724.54h0M468.83,733.22h0M470.9,728.55h0M472.98,725.2h0M475.06,735.9h0M477.14,731.89h0M479.21,728.55h0M481.29,725.87h0M483.37,721.2h0M485.44,719.86h0M487.52,728.55h0M489.6,739.9h0M491.68,719.86h0M493.75,725.2h0M495.83,724.54h0M497.91,733.22h0M499.98,728.55h0M502.06,730.55h0M504.14,726.54h0M506.22,725.2h0M508.29,727.88h0M510.37,729.88h0M512.45,730.55h0M514.52,731.22h0M516.6,730.55h0M518.68,721.2h0M520.76,728.55h0M522.83,726.54h0M524.91,739.24h0M526.99,725.2h0M529.06,741.24h0M531.14,730.55h0M533.22,721.86h0" stroke="#dc2226" stroke-width="3.24" stroke-linecap="round" fill="none"/>
<rect x="317.3" y="664.4" width="226.2" height="147" fill="none" stroke="#000" stroke-width="0.75"/>
<path d="M327.58,811.4v2.5M369.12,811.4v2.5M410.67,811.4v2.5M452.21,811.4v2.5M493.75,811.4v2.5M535.3,811.4v2.5M317.3,804.72h-2.5M317.3,777.99h-2.5M317.3,751.26h-2.5M317.3,724.54h-2.5M317.3,697.81h-2.5M317.3,671.08h-2.5" stroke="#000" stroke-width="0.75" fill="none"/>
<g class="tk" text-anchor="middle">
<text transform="translate(327.88 823.3) scale(0.92 1)">0</text>
<text transform="translate(369.42 823.3) scale(0.92 1)">20</text>
<text transform="translate(410.97 823.3) scale(0.92 1)">40</text>
<text transform="translate(452.51 823.3) scale(0.92 1)">60</text>
<text transform="translate(494.05 823.3) scale(0.92 1)">80</text>
<text transform="translate(535.6 823.3) scale(0.92 1)">100</text>
</g>
<g class="tk" text-anchor="end">
<text transform="translate(313 808.32) scale(0.92 1)">0.0</text>
<text transform="translate(313 781.59) scale(0.92 1)">0.2</text>
<text transform="translate(313 754.86) scale(0.92 1)">0.4</text>
<text transform="translate(313 728.14) scale(0.92 1)">0.6</text>
<text transform="translate(313 701.41) scale(0.92 1)">0.8</text>
<text transform="translate(313 674.68) scale(0.92 1)">1.0</text>
</g>
<text class="ti" text-anchor="middle" transform="translate(430.5 660.5) scale(0.92 1)">Random network 8</text>
<text class="la" text-anchor="middle" transform="translate(430.4 834.9) scale(0.92 1)">Nodes</text>
<rect x="321.8" y="748.9" width="52.0" height="58.0" rx="1.8" fill="#fff" fill-opacity="0.8" stroke="#ccc" stroke-opacity="0.8" stroke-width="0.75"/>
<path d="M325.7,756.1h19" stroke="#1c76ba" stroke-width="1.33" stroke-linecap="square" fill="none"/>
<circle cx="335.2" cy="756.1" r="1.62" fill="#1c76ba"/>
<text class="lg" x="352.2" y="759.4">RD</text>
<path d="M325.7,769.9h19" stroke="#ff7f0e" stroke-width="1.33" stroke-linecap="square" fill="none"/>
<circle cx="335.2" cy="769.9" r="1.62" fill="#ff7f0e"/>
<text class="lg" x="352.2" y="773.2">BC</text>
<path d="M325.7,783.7h19" stroke="#29a32d" stroke-width="1.33" stroke-linecap="square" fill="none"/>
<circle cx="335.2" cy="783.7" r="1.62" fill="#29a32d"/>
<text class="lg" x="352.2" y="787">CC<tspan class="sb" dx="0.4" dy="1.7">1</tspan></text>
<path d="M325.7,797.5h19" stroke="#dc2226" stroke-width="1.33" stroke-linecap="square" fill="none"/>
<circle cx="335.2" cy="797.5" r="1.62" fill="#dc2226"/>
<text class="lg" x="352.2" y="800.8">CC<tspan class="sb" dx="0.4" dy="1.7">2</tspan></text>
</g>
</svg>
</body></html>
